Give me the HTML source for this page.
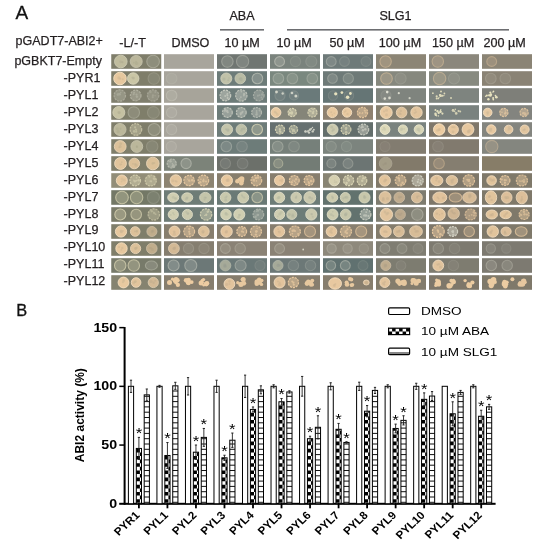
<!DOCTYPE html><html><head><meta charset="utf-8"><style>html,body{margin:0;padding:0;background:#fff;width:544px;height:550px;overflow:hidden}svg{display:block}</style></head><body><svg width="544" height="550" viewBox="0 0 544 550" font-family="Liberation Sans, Arial, sans-serif">
<rect width="544" height="550" fill="#fff"/>
<defs>
<pattern id="chk" patternUnits="userSpaceOnUse" width="5.2" height="6.6" x="0" y="0"><rect width="5.2" height="6.6" fill="#fff"/><rect x="0" y="0" width="2.6" height="3.3" fill="#111"/><rect x="2.6" y="3.3" width="2.6" height="3.3" fill="#111"/></pattern>
<pattern id="hst" patternUnits="userSpaceOnUse" width="6" height="5.1"><rect width="6" height="5.1" fill="#fff"/><rect y="4" width="6" height="1.1" fill="#222"/></pattern>
<filter id="bl" x="0" y="0" width="1" height="1"><feGaussianBlur stdDeviation="0.6"/></filter>
</defs>
<g filter="url(#bl)">
<rect x="111.25" y="54.20" width="50" height="14.6" fill="#7f7e6b"/>
<ellipse cx="153.1" cy="61.5" rx="6.30" ry="6.30" fill="#8e8e7b" stroke="#a6a594" stroke-width="1.1"/>
<ellipse cx="120.8" cy="61.5" rx="6.30" ry="6.30" fill="#c0bc9e" stroke="#cbc8b1" stroke-width="0.9"/>
<circle cx="120.6" cy="61.9" r="1.3" fill="#b2ae93" opacity="0.6"/>
<circle cx="122.4" cy="62.3" r="1.1" fill="#b2ae93" opacity="0.6"/>
<circle cx="122.4" cy="62.1" r="0.8" fill="#b2ae93" opacity="0.6"/>
<ellipse cx="136.2" cy="61.5" rx="6.00" ry="6.00" fill="#bbb79b" stroke="#c5c2ab" stroke-width="0.9"/>
<circle cx="136.0" cy="61.6" r="0.9" fill="#aeab90" opacity="0.6"/>
<circle cx="133.9" cy="62.7" r="0.9" fill="#aeab90" opacity="0.6"/>
<circle cx="136.6" cy="63.4" r="1.6" fill="#aeab90" opacity="0.6"/>
<rect x="111.25" y="71.20" width="50" height="14.6" fill="#7f7e6b"/>
<ellipse cx="153.8" cy="78.5" rx="5.70" ry="5.70" fill="#878774" stroke="#949381" stroke-width="1.1"/>
<ellipse cx="120.0" cy="78.5" rx="6.30" ry="6.30" fill="#e6c89f" stroke="#f4dfc0" stroke-width="0.9"/>
<circle cx="118.9" cy="77.9" r="1.6" fill="#cfb894" opacity="0.6"/>
<circle cx="122.8" cy="79.3" r="1.0" fill="#cfb894" opacity="0.6"/>
<circle cx="120.3" cy="78.8" r="1.0" fill="#cfb894" opacity="0.6"/>
<ellipse cx="133.2" cy="78.5" rx="5.70" ry="5.70" fill="#cac6a6" stroke="#d7d4bb" stroke-width="0.9"/>
<circle cx="133.5" cy="78.0" r="1.3" fill="#b9b699" opacity="0.6"/>
<circle cx="132.5" cy="77.6" r="1.2" fill="#b9b699" opacity="0.6"/>
<circle cx="133.4" cy="78.6" r="1.0" fill="#b9b699" opacity="0.6"/>
<rect x="111.25" y="88.20" width="50" height="14.6" fill="#807f6e"/>
<ellipse cx="119.8" cy="95.5" rx="5.70" ry="5.70" fill="#969685" stroke="#abaa9a" stroke-width="1.2" stroke-dasharray="2.2 0.9"/>
<circle cx="119.0" cy="93.8" r="0.9" fill="#a6a696"/>
<circle cx="118.1" cy="94.5" r="0.9" fill="#a6a696"/>
<circle cx="120.7" cy="92.5" r="0.8" fill="#a6a696"/>
<circle cx="117.8" cy="94.5" r="1.2" fill="#a6a696"/>
<circle cx="119.7" cy="94.2" r="1.3" fill="#a6a696"/>
<ellipse cx="135.7" cy="95.5" rx="5.30" ry="5.30" fill="#999888" stroke="#b0af9f" stroke-width="1.2" stroke-dasharray="2.2 0.9"/>
<circle cx="136.9" cy="96.6" r="1.2" fill="#aaaa9a"/>
<circle cx="136.8" cy="97.1" r="0.7" fill="#aaaa9a"/>
<circle cx="134.1" cy="92.8" r="1.0" fill="#aaaa9a"/>
<circle cx="136.5" cy="94.6" r="1.1" fill="#aaaa9a"/>
<circle cx="133.7" cy="94.2" r="1.0" fill="#aaaa9a"/>
<ellipse cx="153.1" cy="95.5" rx="5.70" ry="5.70" fill="#949383" stroke="#a6a596" stroke-width="1.2" stroke-dasharray="2.2 0.9"/>
<circle cx="155.3" cy="92.0" r="1.0" fill="#a2a191"/>
<circle cx="152.9" cy="95.3" r="1.1" fill="#a2a191"/>
<circle cx="150.4" cy="92.0" r="1.2" fill="#a2a191"/>
<circle cx="152.7" cy="97.2" r="1.1" fill="#a2a191"/>
<circle cx="155.1" cy="95.8" r="0.8" fill="#a2a191"/>
<rect x="111.25" y="105.20" width="50" height="14.6" fill="#7f7e6b"/>
<ellipse cx="153.4" cy="112.5" rx="5.90" ry="5.90" fill="#878774" stroke="#949381" stroke-width="1.1"/>
<ellipse cx="133.8" cy="112.5" rx="5.70" ry="5.70" fill="#8d8c7a" stroke="#a1a18f" stroke-width="1.1"/>
<ellipse cx="118.8" cy="112.5" rx="6.00" ry="6.00" fill="#c5c1a2" stroke="#d1ceb6" stroke-width="0.9"/>
<circle cx="119.0" cy="112.6" r="1.4" fill="#b5b296" opacity="0.6"/>
<circle cx="119.4" cy="113.1" r="1.1" fill="#b5b296" opacity="0.6"/>
<circle cx="119.0" cy="112.3" r="1.2" fill="#b5b296" opacity="0.6"/>
<rect x="111.25" y="122.20" width="50" height="14.6" fill="#7f7e6b"/>
<ellipse cx="154.2" cy="129.5" rx="6.00" ry="6.00" fill="#8e8e7b" stroke="#a6a594" stroke-width="1.1"/>
<ellipse cx="120.0" cy="129.5" rx="6.00" ry="6.00" fill="#bbb79b" stroke="#c5c2ab" stroke-width="0.9"/>
<circle cx="117.3" cy="128.7" r="1.5" fill="#aeab90" opacity="0.6"/>
<circle cx="120.5" cy="128.8" r="1.1" fill="#aeab90" opacity="0.6"/>
<circle cx="118.2" cy="131.7" r="1.6" fill="#aeab90" opacity="0.6"/>
<ellipse cx="135.9" cy="129.5" rx="5.80" ry="5.80" fill="#a3a088" stroke="#c4bfa1" stroke-width="1.2" stroke-dasharray="2.2 0.9"/>
<circle cx="136.4" cy="130.1" r="0.8" fill="#bcb99c"/>
<circle cx="136.2" cy="131.7" r="1.1" fill="#bcb99c"/>
<circle cx="135.9" cy="129.5" r="1.0" fill="#bcb99c"/>
<circle cx="134.2" cy="131.4" r="1.3" fill="#bcb99c"/>
<circle cx="135.1" cy="127.3" r="1.1" fill="#bcb99c"/>
<rect x="111.25" y="139.20" width="50" height="14.6" fill="#7f7e6b"/>
<ellipse cx="152.2" cy="146.5" rx="5.70" ry="5.70" fill="#878774" stroke="#949381" stroke-width="1.1"/>
<ellipse cx="120.2" cy="146.5" rx="5.90" ry="5.90" fill="#dcc19a" stroke="#e8d4b7" stroke-width="0.9"/>
<circle cx="120.1" cy="146.4" r="1.5" fill="#c7b28f" opacity="0.6"/>
<circle cx="120.7" cy="143.8" r="1.4" fill="#c7b28f" opacity="0.6"/>
<circle cx="119.2" cy="147.3" r="0.9" fill="#c7b28f" opacity="0.6"/>
<ellipse cx="136.8" cy="146.5" rx="5.90" ry="5.90" fill="#bbb79b" stroke="#c5c2ab" stroke-width="0.9"/>
<circle cx="136.7" cy="146.4" r="0.9" fill="#aeab90" opacity="0.6"/>
<circle cx="137.0" cy="147.0" r="1.1" fill="#aeab90" opacity="0.6"/>
<circle cx="136.9" cy="146.5" r="0.9" fill="#aeab90" opacity="0.6"/>
<rect x="111.25" y="156.20" width="50" height="14.6" fill="#807e6a"/>
<ellipse cx="120.5" cy="163.5" rx="5.90" ry="5.90" fill="#e1c49c" stroke="#eedabc" stroke-width="0.9"/>
<circle cx="121.4" cy="164.2" r="0.8" fill="#ccb591" opacity="0.6"/>
<circle cx="121.8" cy="162.1" r="0.9" fill="#ccb591" opacity="0.6"/>
<circle cx="120.4" cy="164.6" r="1.1" fill="#ccb591" opacity="0.6"/>
<ellipse cx="134.3" cy="163.5" rx="5.30" ry="5.30" fill="#dcc199" stroke="#e8d4b7" stroke-width="0.9"/>
<circle cx="136.1" cy="165.2" r="1.6" fill="#c7b28f" opacity="0.6"/>
<circle cx="133.0" cy="163.8" r="0.9" fill="#c7b28f" opacity="0.6"/>
<circle cx="135.1" cy="164.1" r="1.0" fill="#c7b28f" opacity="0.6"/>
<ellipse cx="152.8" cy="163.5" rx="6.30" ry="6.30" fill="#dcc199" stroke="#e8d4b7" stroke-width="0.9"/>
<circle cx="153.0" cy="163.0" r="0.8" fill="#c7b28f" opacity="0.6"/>
<circle cx="154.4" cy="163.0" r="0.9" fill="#c7b28f" opacity="0.6"/>
<circle cx="152.7" cy="163.5" r="1.2" fill="#c7b28f" opacity="0.6"/>
<rect x="111.25" y="173.20" width="50" height="14.6" fill="#928d78"/>
<ellipse cx="121.8" cy="180.5" rx="5.50" ry="5.50" fill="#e5c79f" stroke="#f0dbbd" stroke-width="0.9"/>
<circle cx="124.2" cy="180.2" r="1.4" fill="#d2ba96" opacity="0.6"/>
<circle cx="121.7" cy="181.6" r="0.9" fill="#d2ba96" opacity="0.6"/>
<circle cx="122.0" cy="179.0" r="1.4" fill="#d2ba96" opacity="0.6"/>
<ellipse cx="135.2" cy="180.5" rx="5.30" ry="5.30" fill="#b2ad92" stroke="#cfcaaa" stroke-width="1.2" stroke-dasharray="2.2 0.9"/>
<circle cx="134.8" cy="181.3" r="1.2" fill="#c9c3a5"/>
<circle cx="138.6" cy="180.2" r="1.2" fill="#c9c3a5"/>
<circle cx="136.5" cy="177.8" r="0.8" fill="#c9c3a5"/>
<circle cx="133.8" cy="180.3" r="0.7" fill="#c9c3a5"/>
<circle cx="136.4" cy="180.7" r="0.9" fill="#c9c3a5"/>
<ellipse cx="150.8" cy="180.5" rx="5.50" ry="5.50" fill="#b0ab90" stroke="#cbc5a6" stroke-width="1.2" stroke-dasharray="2.2 0.9"/>
<circle cx="149.4" cy="176.7" r="1.0" fill="#c5bfa1"/>
<circle cx="154.7" cy="178.9" r="1.3" fill="#c5bfa1"/>
<circle cx="150.2" cy="181.2" r="0.8" fill="#c5bfa1"/>
<circle cx="151.1" cy="181.3" r="1.1" fill="#c5bfa1"/>
<circle cx="153.7" cy="178.4" r="1.0" fill="#c5bfa1"/>
<rect x="111.25" y="190.20" width="50" height="14.6" fill="#737866"/>
<ellipse cx="153.4" cy="197.5" rx="6.00" ry="6.00" fill="#7c816f" stroke="#8b8f7e" stroke-width="1.1"/>
<ellipse cx="122.0" cy="197.5" rx="6.30" ry="6.30" fill="#92957e" stroke="#c1bfa1" stroke-width="1.1"/>
<ellipse cx="136.6" cy="197.5" rx="6.20" ry="6.20" fill="#90937c" stroke="#bcbb9d" stroke-width="1.1"/>
<rect x="111.25" y="207.20" width="50" height="14.6" fill="#7a7b69"/>
<ellipse cx="120.3" cy="214.5" rx="5.50" ry="5.50" fill="#9a9981" stroke="#c9c5a6" stroke-width="1.1"/>
<ellipse cx="136.2" cy="214.5" rx="5.30" ry="5.30" fill="#96957e" stroke="#bfbc9f" stroke-width="1.1"/>
<ellipse cx="153.8" cy="214.5" rx="5.70" ry="5.70" fill="#9d9c84" stroke="#bcb99c" stroke-width="1.2" stroke-dasharray="2.2 0.9"/>
<circle cx="151.8" cy="211.6" r="0.8" fill="#b5b397"/>
<circle cx="151.7" cy="211.1" r="1.2" fill="#b5b397"/>
<circle cx="153.8" cy="212.4" r="0.8" fill="#b5b397"/>
<circle cx="154.2" cy="213.1" r="1.2" fill="#b5b397"/>
<circle cx="155.6" cy="214.2" r="0.9" fill="#b5b397"/>
<rect x="111.25" y="224.20" width="50" height="14.6" fill="#7f7e6b"/>
<ellipse cx="121.0" cy="231.5" rx="5.60" ry="5.60" fill="#e6c89f" stroke="#f4dfc0" stroke-width="0.9"/>
<circle cx="123.1" cy="230.8" r="0.9" fill="#cfb894" opacity="0.6"/>
<circle cx="121.4" cy="231.8" r="1.5" fill="#cfb894" opacity="0.6"/>
<circle cx="121.2" cy="231.1" r="1.5" fill="#cfb894" opacity="0.6"/>
<ellipse cx="135.2" cy="231.5" rx="4.80" ry="4.80" fill="#dcc19a" stroke="#e8d4b7" stroke-width="0.9"/>
<circle cx="136.8" cy="231.3" r="1.1" fill="#c7b28f" opacity="0.6"/>
<circle cx="134.8" cy="231.4" r="0.8" fill="#c7b28f" opacity="0.6"/>
<circle cx="136.8" cy="231.2" r="1.2" fill="#c7b28f" opacity="0.6"/>
<ellipse cx="151.9" cy="231.5" rx="5.00" ry="5.00" fill="#c0ad8c" stroke="#c9bba1" stroke-width="0.9"/>
<circle cx="153.0" cy="231.0" r="1.5" fill="#b2a385" opacity="0.6"/>
<circle cx="152.2" cy="231.0" r="1.0" fill="#b2a385" opacity="0.6"/>
<circle cx="151.8" cy="232.1" r="1.3" fill="#b2a385" opacity="0.6"/>
<rect x="111.25" y="241.20" width="50" height="14.6" fill="#7f7e6b"/>
<ellipse cx="121.5" cy="248.5" rx="5.70" ry="5.70" fill="#e6c89f" stroke="#f4dfc0" stroke-width="0.9"/>
<circle cx="121.4" cy="249.8" r="0.9" fill="#cfb894" opacity="0.6"/>
<circle cx="122.3" cy="247.9" r="1.2" fill="#cfb894" opacity="0.6"/>
<circle cx="119.1" cy="247.1" r="1.1" fill="#cfb894" opacity="0.6"/>
<ellipse cx="135.6" cy="248.5" rx="5.10" ry="5.10" fill="#dcc19a" stroke="#e8d4b7" stroke-width="0.9"/>
<circle cx="136.7" cy="247.8" r="1.2" fill="#c7b28f" opacity="0.6"/>
<circle cx="135.5" cy="248.5" r="1.2" fill="#c7b28f" opacity="0.6"/>
<circle cx="135.6" cy="248.5" r="1.4" fill="#c7b28f" opacity="0.6"/>
<ellipse cx="151.8" cy="248.5" rx="5.30" ry="5.30" fill="#c0ad8c" stroke="#c9bba1" stroke-width="0.9"/>
<circle cx="152.5" cy="249.7" r="1.4" fill="#b2a385" opacity="0.6"/>
<circle cx="151.0" cy="248.2" r="1.2" fill="#b2a385" opacity="0.6"/>
<circle cx="149.8" cy="247.8" r="0.9" fill="#b2a385" opacity="0.6"/>
<rect x="111.25" y="258.20" width="50" height="14.6" fill="#777a6a"/>
<ellipse cx="120.2" cy="265.5" rx="5.70" ry="5.70" fill="#959681" stroke="#c3c0a3" stroke-width="1.1"/>
<ellipse cx="133.8" cy="265.5" rx="5.70" ry="5.70" fill="#93947f" stroke="#bebb9f" stroke-width="1.1"/>
<ellipse cx="151.4" cy="265.5" rx="6.00" ry="4.50" fill="#888a7b" stroke="#a1a393" stroke-width="1.1"/>
<rect x="111.25" y="275.20" width="50" height="14.6" fill="#858370"/>
<ellipse cx="123.5" cy="282.5" rx="5.40" ry="5.40" fill="#e7c9a0" stroke="#f5dfc0" stroke-width="0.9"/>
<circle cx="122.8" cy="282.2" r="1.0" fill="#d1ba95" opacity="0.6"/>
<circle cx="123.6" cy="281.1" r="1.2" fill="#d1ba95" opacity="0.6"/>
<circle cx="123.6" cy="279.9" r="1.2" fill="#d1ba95" opacity="0.6"/>
<ellipse cx="136.1" cy="282.5" rx="4.80" ry="4.80" fill="#e2c59d" stroke="#efdabc" stroke-width="0.9"/>
<circle cx="135.1" cy="281.7" r="1.2" fill="#cdb793" opacity="0.6"/>
<circle cx="135.6" cy="281.4" r="1.2" fill="#cdb793" opacity="0.6"/>
<circle cx="133.7" cy="282.8" r="1.4" fill="#cdb793" opacity="0.6"/>
<ellipse cx="153.3" cy="282.5" rx="5.10" ry="5.10" fill="#d3ba96" stroke="#ddccb0" stroke-width="0.9"/>
<circle cx="155.2" cy="280.7" r="1.0" fill="#c1ae8d" opacity="0.6"/>
<circle cx="151.0" cy="281.6" r="1.5" fill="#c1ae8d" opacity="0.6"/>
<circle cx="153.6" cy="282.7" r="1.2" fill="#c1ae8d" opacity="0.6"/>
<rect x="164" y="54.20" width="50" height="14.6" fill="#a8a59c"/>
<rect x="164" y="71.20" width="50" height="14.6" fill="#a8a59c"/>
<ellipse cx="171.6" cy="78.5" rx="5.30" ry="5.30" fill="#aba99f" stroke="#b0aea4" stroke-width="1.1"/>
<rect x="164" y="88.20" width="50" height="14.6" fill="#a7a49a"/>
<ellipse cx="171.6" cy="95.5" rx="5.30" ry="5.30" fill="#aeaca1" stroke="#b9b7ac" stroke-width="1.1"/>
<rect x="164" y="105.20" width="50" height="14.6" fill="#a8a59c"/>
<ellipse cx="171.6" cy="112.5" rx="5.10" ry="5.10" fill="#aeaba2" stroke="#b7b5ab" stroke-width="1.1"/>
<rect x="164" y="122.20" width="50" height="14.6" fill="#a8a59c"/>
<ellipse cx="171.6" cy="129.5" rx="5.10" ry="5.10" fill="#aeaba2" stroke="#b6b4aa" stroke-width="1.1"/>
<rect x="164" y="139.20" width="50" height="14.6" fill="#a8a59c"/>
<ellipse cx="171.3" cy="146.5" rx="5.10" ry="5.10" fill="#adaaa1" stroke="#b5b2a8" stroke-width="1.1"/>
<rect x="164" y="156.20" width="50" height="14.6" fill="#7b8379"/>
<ellipse cx="186.1" cy="163.5" rx="5.10" ry="5.10" fill="#8d9389" stroke="#a8aca1" stroke-width="1.1"/>
<ellipse cx="171.7" cy="163.5" rx="4.50" ry="4.50" fill="#9aa095" stroke="#b7baae" stroke-width="1.2" stroke-dasharray="2.2 0.9"/>
<circle cx="172.4" cy="163.8" r="0.7" fill="#b1b4a8"/>
<circle cx="170.5" cy="161.3" r="1.2" fill="#b1b4a8"/>
<circle cx="173.0" cy="165.4" r="1.1" fill="#b1b4a8"/>
<circle cx="173.5" cy="165.7" r="1.3" fill="#b1b4a8"/>
<circle cx="172.3" cy="166.5" r="0.9" fill="#b1b4a8"/>
<rect x="164" y="173.20" width="50" height="14.6" fill="#8d8472"/>
<ellipse cx="175.8" cy="180.5" rx="5.70" ry="5.70" fill="#e4c69e" stroke="#f0dabc" stroke-width="0.9"/>
<circle cx="172.8" cy="180.7" r="1.5" fill="#d0b794" opacity="0.6"/>
<circle cx="176.5" cy="181.6" r="1.2" fill="#d0b794" opacity="0.6"/>
<circle cx="175.5" cy="181.0" r="1.1" fill="#d0b794" opacity="0.6"/>
<ellipse cx="189.1" cy="180.5" rx="5.20" ry="5.20" fill="#baa689" stroke="#e3c59e" stroke-width="1.2" stroke-dasharray="2.2 0.9"/>
<circle cx="189.1" cy="180.4" r="1.0" fill="#dabf99"/>
<circle cx="189.0" cy="180.5" r="0.9" fill="#dabf99"/>
<circle cx="187.7" cy="179.1" r="0.7" fill="#dabf99"/>
<circle cx="192.2" cy="180.2" r="1.3" fill="#dabf99"/>
<circle cx="189.9" cy="181.1" r="0.7" fill="#dabf99"/>
<ellipse cx="203.4" cy="180.5" rx="5.30" ry="5.30" fill="#baa689" stroke="#e3c59e" stroke-width="1.2" stroke-dasharray="2.2 0.9"/>
<circle cx="203.6" cy="179.4" r="0.8" fill="#dabf99"/>
<circle cx="200.2" cy="182.2" r="1.2" fill="#dabf99"/>
<circle cx="203.4" cy="181.1" r="1.3" fill="#dabf99"/>
<circle cx="200.9" cy="179.3" r="0.8" fill="#dabf99"/>
<circle cx="206.0" cy="181.5" r="1.0" fill="#dabf99"/>
<rect x="164" y="190.20" width="50" height="14.6" fill="#6e7b76"/>
<ellipse cx="173.2" cy="197.5" rx="5.50" ry="4.70" fill="#d0ceb1" stroke="#e0dec8" stroke-width="0.9"/>
<circle cx="175.6" cy="198.5" r="1.3" fill="#babca4" opacity="0.6"/>
<circle cx="173.3" cy="197.3" r="1.5" fill="#babca4" opacity="0.6"/>
<circle cx="175.5" cy="198.4" r="1.2" fill="#babca4" opacity="0.6"/>
<ellipse cx="187.2" cy="197.5" rx="5.50" ry="4.70" fill="#cac9ad" stroke="#d9d9c3" stroke-width="0.9"/>
<circle cx="186.3" cy="198.7" r="1.5" fill="#b6b8a1" opacity="0.6"/>
<circle cx="187.2" cy="197.8" r="1.2" fill="#b6b8a1" opacity="0.6"/>
<circle cx="187.2" cy="197.8" r="0.9" fill="#b6b8a1" opacity="0.6"/>
<ellipse cx="205.3" cy="197.5" rx="5.70" ry="5.10" fill="#c4c5aa" stroke="#d2d3be" stroke-width="0.9"/>
<circle cx="205.9" cy="197.7" r="1.0" fill="#b1b49e" opacity="0.6"/>
<circle cx="204.5" cy="199.4" r="1.0" fill="#b1b49e" opacity="0.6"/>
<circle cx="204.8" cy="197.5" r="1.1" fill="#b1b49e" opacity="0.6"/>
<rect x="164" y="207.20" width="50" height="14.6" fill="#6e7b76"/>
<ellipse cx="173.3" cy="214.5" rx="5.10" ry="5.10" fill="#d0ceb1" stroke="#e0dec8" stroke-width="0.9"/>
<circle cx="174.0" cy="214.6" r="0.8" fill="#babca4" opacity="0.6"/>
<circle cx="173.1" cy="213.0" r="1.0" fill="#babca4" opacity="0.6"/>
<circle cx="170.8" cy="214.9" r="0.9" fill="#babca4" opacity="0.6"/>
<ellipse cx="187.4" cy="214.5" rx="5.10" ry="5.10" fill="#cac9ad" stroke="#d9d9c3" stroke-width="0.9"/>
<circle cx="187.9" cy="213.4" r="1.2" fill="#b6b8a1" opacity="0.6"/>
<circle cx="187.9" cy="213.6" r="1.2" fill="#b6b8a1" opacity="0.6"/>
<circle cx="186.4" cy="212.1" r="1.1" fill="#b6b8a1" opacity="0.6"/>
<ellipse cx="206.1" cy="214.5" rx="5.70" ry="5.70" fill="#a1a795" stroke="#cfceb1" stroke-width="1.2" stroke-dasharray="2.2 0.9"/>
<circle cx="207.6" cy="211.8" r="1.1" fill="#c5c5aa"/>
<circle cx="204.8" cy="215.4" r="0.7" fill="#c5c5aa"/>
<circle cx="206.3" cy="214.7" r="1.1" fill="#c5c5aa"/>
<circle cx="206.1" cy="215.2" r="0.8" fill="#c5c5aa"/>
<circle cx="208.2" cy="211.3" r="1.1" fill="#c5c5aa"/>
<rect x="164" y="224.20" width="50" height="14.6" fill="#877e6e"/>
<ellipse cx="174.5" cy="231.5" rx="5.40" ry="5.40" fill="#e3c49d" stroke="#efdabc" stroke-width="0.9"/>
<circle cx="174.4" cy="232.2" r="1.0" fill="#ceb593" opacity="0.6"/>
<circle cx="174.1" cy="231.6" r="1.2" fill="#ceb593" opacity="0.6"/>
<circle cx="174.3" cy="234.2" r="1.6" fill="#ceb593" opacity="0.6"/>
<ellipse cx="203.8" cy="231.5" rx="5.40" ry="5.40" fill="#ddc19a" stroke="#e9d4b8" stroke-width="0.9"/>
<circle cx="203.1" cy="231.3" r="1.6" fill="#cab291" opacity="0.6"/>
<circle cx="203.4" cy="232.4" r="0.8" fill="#cab291" opacity="0.6"/>
<circle cx="202.8" cy="232.4" r="1.2" fill="#cab291" opacity="0.6"/>
<ellipse cx="189.2" cy="231.5" rx="5.40" ry="5.40" fill="#b7a387" stroke="#e2c49d" stroke-width="1.2" stroke-dasharray="2.2 0.9"/>
<circle cx="189.8" cy="233.5" r="0.7" fill="#d9bd98"/>
<circle cx="189.2" cy="231.9" r="0.9" fill="#d9bd98"/>
<circle cx="189.3" cy="231.5" r="0.9" fill="#d9bd98"/>
<circle cx="189.5" cy="233.9" r="1.0" fill="#d9bd98"/>
<circle cx="189.2" cy="228.8" r="1.1" fill="#d9bd98"/>
<rect x="164" y="241.20" width="50" height="14.6" fill="#857e70"/>
<ellipse cx="188.5" cy="248.5" rx="5.10" ry="5.10" fill="#8d8779" stroke="#999385" stroke-width="1.1"/>
<ellipse cx="204.0" cy="248.5" rx="5.10" ry="5.10" fill="#8c8577" stroke="#969082" stroke-width="1.1"/>
<ellipse cx="173.9" cy="248.5" rx="5.40" ry="5.40" fill="#d3b996" stroke="#ddcab0" stroke-width="0.9"/>
<circle cx="174.7" cy="247.7" r="1.1" fill="#c1ac8d" opacity="0.6"/>
<circle cx="174.3" cy="248.5" r="1.4" fill="#c1ac8d" opacity="0.6"/>
<circle cx="173.8" cy="248.4" r="1.5" fill="#c1ac8d" opacity="0.6"/>
<rect x="164" y="258.20" width="50" height="14.6" fill="#6c7877"/>
<ellipse cx="173.6" cy="265.5" rx="5.50" ry="5.50" fill="#828c89" stroke="#a4aaa3" stroke-width="1.1"/>
<ellipse cx="190.8" cy="265.5" rx="6.00" ry="6.00" fill="#808a87" stroke="#9fa69f" stroke-width="1.1"/>
<rect x="164" y="275.20" width="50" height="14.6" fill="#877e6e"/>
<circle cx="177.3" cy="280.3" r="2.4" fill="#edcca2"/>
<circle cx="174.9" cy="281.0" r="2.1" fill="#edcca2"/>
<circle cx="169.5" cy="282.4" r="2.5" fill="#edcca2"/>
<circle cx="176.0" cy="279.6" r="2.6" fill="#edcca2"/>
<circle cx="172.5" cy="279.2" r="1.6" fill="#edcca2"/>
<circle cx="176.0" cy="282.8" r="1.8" fill="#edcca2"/>
<circle cx="177.9" cy="284.9" r="2.1" fill="#edcca2"/>
<circle cx="186.1" cy="280.3" r="2.3" fill="#edcca2"/>
<circle cx="188.3" cy="282.5" r="2.5" fill="#edcca2"/>
<circle cx="188.6" cy="279.8" r="2.1" fill="#edcca2"/>
<circle cx="188.0" cy="281.7" r="2.4" fill="#edcca2"/>
<circle cx="188.6" cy="283.5" r="1.7" fill="#edcca2"/>
<circle cx="188.3" cy="280.8" r="2.4" fill="#edcca2"/>
<circle cx="191.7" cy="282.1" r="1.9" fill="#edcca2"/>
<circle cx="201.1" cy="282.9" r="2.5" fill="#edcca2"/>
<circle cx="202.1" cy="280.4" r="1.4" fill="#edcca2"/>
<circle cx="206.2" cy="284.0" r="2.4" fill="#edcca2"/>
<circle cx="203.7" cy="285.2" r="1.3" fill="#edcca2"/>
<circle cx="207.0" cy="283.2" r="2.3" fill="#edcca2"/>
<circle cx="203.5" cy="279.6" r="1.7" fill="#edcca2"/>
<circle cx="201.7" cy="282.2" r="2.0" fill="#edcca2"/>
<rect x="217" y="54.20" width="50" height="14.6" fill="#6f7672"/>
<ellipse cx="227.4" cy="61.5" rx="5.70" ry="5.70" fill="#818781" stroke="#9ca098" stroke-width="1.1"/>
<ellipse cx="242.6" cy="61.5" rx="6.10" ry="6.10" fill="#7f8580" stroke="#979b94" stroke-width="1.1"/>
<rect x="217" y="71.20" width="50" height="14.6" fill="#6d7b79"/>
<ellipse cx="257.4" cy="78.5" rx="5.30" ry="5.30" fill="#85908c" stroke="#aab1a8" stroke-width="1.1"/>
<ellipse cx="226.3" cy="78.5" rx="5.50" ry="5.50" fill="#c1c2a9" stroke="#cecfbc" stroke-width="0.9"/>
<circle cx="228.2" cy="80.3" r="1.0" fill="#aeb29e" opacity="0.6"/>
<circle cx="229.0" cy="78.1" r="0.8" fill="#aeb29e" opacity="0.6"/>
<circle cx="224.0" cy="79.1" r="1.6" fill="#aeb29e" opacity="0.6"/>
<ellipse cx="240.3" cy="78.5" rx="5.30" ry="5.30" fill="#b8bba4" stroke="#c5c7b6" stroke-width="0.9"/>
<circle cx="239.6" cy="78.7" r="1.0" fill="#a8ad9b" opacity="0.6"/>
<circle cx="240.9" cy="78.3" r="1.3" fill="#a8ad9b" opacity="0.6"/>
<circle cx="241.2" cy="79.6" r="1.6" fill="#a8ad9b" opacity="0.6"/>
<rect x="217" y="88.20" width="50" height="14.6" fill="#6d7b79"/>
<ellipse cx="225.4" cy="95.5" rx="5.30" ry="5.30" fill="#9da59e" stroke="#c7cbc0" stroke-width="1.2" stroke-dasharray="2.2 0.9"/>
<circle cx="227.6" cy="97.9" r="1.0" fill="#bec2b8"/>
<circle cx="227.5" cy="93.7" r="0.8" fill="#bec2b8"/>
<circle cx="227.0" cy="94.3" r="0.7" fill="#bec2b8"/>
<circle cx="227.4" cy="95.5" r="1.0" fill="#bec2b8"/>
<circle cx="225.2" cy="96.0" r="0.9" fill="#bec2b8"/>
<ellipse cx="241.3" cy="95.5" rx="5.70" ry="5.70" fill="#97a09a" stroke="#bcc1b7" stroke-width="1.2" stroke-dasharray="2.2 0.9"/>
<circle cx="239.8" cy="98.9" r="0.7" fill="#b4b9b0"/>
<circle cx="241.3" cy="91.8" r="0.8" fill="#b4b9b0"/>
<circle cx="244.1" cy="94.1" r="1.2" fill="#b4b9b0"/>
<circle cx="240.9" cy="97.1" r="0.9" fill="#b4b9b0"/>
<circle cx="243.9" cy="95.5" r="0.9" fill="#b4b9b0"/>
<ellipse cx="258.8" cy="95.5" rx="5.30" ry="5.30" fill="#8b9590" stroke="#a6ada5" stroke-width="1.2" stroke-dasharray="2.2 0.9"/>
<circle cx="257.8" cy="96.0" r="0.7" fill="#a0a8a1"/>
<circle cx="261.5" cy="97.5" r="0.9" fill="#a0a8a1"/>
<circle cx="259.7" cy="95.1" r="0.9" fill="#a0a8a1"/>
<circle cx="258.0" cy="95.4" r="0.9" fill="#a0a8a1"/>
<circle cx="262.2" cy="94.5" r="1.2" fill="#a0a8a1"/>
<rect x="217" y="105.20" width="50" height="14.6" fill="#6d7b79"/>
<ellipse cx="227.4" cy="112.5" rx="4.90" ry="4.90" fill="#97a09a" stroke="#bcc1b7" stroke-width="1.2" stroke-dasharray="2.2 0.9"/>
<circle cx="225.2" cy="110.1" r="1.3" fill="#b4b9b0"/>
<circle cx="224.9" cy="111.7" r="0.7" fill="#b4b9b0"/>
<circle cx="227.2" cy="110.9" r="1.2" fill="#b4b9b0"/>
<circle cx="226.8" cy="111.7" r="0.7" fill="#b4b9b0"/>
<circle cx="227.8" cy="112.3" r="1.0" fill="#b4b9b0"/>
<ellipse cx="241.3" cy="112.5" rx="4.90" ry="4.90" fill="#97a09a" stroke="#bcc1b7" stroke-width="1.2" stroke-dasharray="2.2 0.9"/>
<circle cx="240.7" cy="113.4" r="1.1" fill="#b4b9b0"/>
<circle cx="242.2" cy="112.4" r="1.1" fill="#b4b9b0"/>
<circle cx="240.7" cy="114.4" r="0.9" fill="#b4b9b0"/>
<circle cx="241.6" cy="113.0" r="0.8" fill="#b4b9b0"/>
<circle cx="242.8" cy="111.5" r="0.8" fill="#b4b9b0"/>
<ellipse cx="256.6" cy="112.5" rx="4.90" ry="4.90" fill="#919a95" stroke="#b1b7ae" stroke-width="1.2" stroke-dasharray="2.2 0.9"/>
<circle cx="259.6" cy="110.5" r="1.0" fill="#aab1a8"/>
<circle cx="257.0" cy="113.0" r="0.8" fill="#aab1a8"/>
<circle cx="256.4" cy="112.8" r="0.8" fill="#aab1a8"/>
<circle cx="256.5" cy="114.5" r="1.2" fill="#aab1a8"/>
<circle cx="256.6" cy="111.0" r="0.9" fill="#aab1a8"/>
<rect x="217" y="122.20" width="50" height="14.6" fill="#6d7b79"/>
<ellipse cx="257.2" cy="129.5" rx="5.30" ry="5.30" fill="#90998d" stroke="#c5c5ab" stroke-width="1.1"/>
<ellipse cx="227.1" cy="129.5" rx="5.50" ry="5.50" fill="#c4c5ab" stroke="#d2d3bf" stroke-width="0.9"/>
<circle cx="226.0" cy="129.3" r="1.1" fill="#b1b4a0" opacity="0.6"/>
<circle cx="227.8" cy="129.8" r="1.6" fill="#b1b4a0" opacity="0.6"/>
<circle cx="228.1" cy="130.5" r="1.3" fill="#b1b4a0" opacity="0.6"/>
<ellipse cx="241.4" cy="129.5" rx="5.30" ry="5.30" fill="#bec0a8" stroke="#cbcdba" stroke-width="0.9"/>
<circle cx="241.8" cy="129.0" r="1.0" fill="#acb09d" opacity="0.6"/>
<circle cx="241.4" cy="130.6" r="1.2" fill="#acb09d" opacity="0.6"/>
<circle cx="243.7" cy="128.8" r="1.5" fill="#acb09d" opacity="0.6"/>
<rect x="217" y="139.20" width="50" height="14.6" fill="#6d7b79"/>
<ellipse cx="242.0" cy="146.5" rx="5.30" ry="5.30" fill="#778481" stroke="#86918d" stroke-width="1.1"/>
<ellipse cx="226.3" cy="146.5" rx="5.30" ry="5.30" fill="#7d8986" stroke="#959f99" stroke-width="1.1"/>
<rect x="217" y="156.20" width="50" height="14.6" fill="#6c706b"/>
<ellipse cx="225.4" cy="163.5" rx="5.10" ry="5.10" fill="#767a74" stroke="#858881" stroke-width="1.1"/>
<ellipse cx="242.6" cy="163.5" rx="5.30" ry="5.30" fill="#747872" stroke="#81847e" stroke-width="1.1"/>
<rect x="217" y="173.20" width="50" height="14.6" fill="#877e6d"/>
<ellipse cx="226.9" cy="180.5" rx="5.60" ry="5.60" fill="#e8c89f" stroke="#f5dfc0" stroke-width="0.9"/>
<circle cx="227.0" cy="180.5" r="1.4" fill="#d2b894" opacity="0.6"/>
<circle cx="228.0" cy="179.6" r="1.3" fill="#d2b894" opacity="0.6"/>
<circle cx="228.1" cy="180.5" r="1.5" fill="#d2b894" opacity="0.6"/>
<ellipse cx="256.4" cy="180.5" rx="5.30" ry="5.30" fill="#b7a386" stroke="#e2c49d" stroke-width="1.2" stroke-dasharray="2.2 0.9"/>
<circle cx="258.0" cy="177.5" r="1.3" fill="#d9bd98"/>
<circle cx="256.4" cy="180.9" r="0.8" fill="#d9bd98"/>
<circle cx="253.7" cy="180.1" r="1.3" fill="#d9bd98"/>
<circle cx="255.9" cy="178.0" r="1.2" fill="#d9bd98"/>
<circle cx="254.3" cy="181.1" r="0.7" fill="#d9bd98"/>
<circle cx="241.7" cy="178.9" r="2.7" fill="#e7c89f"/>
<circle cx="239.9" cy="179.0" r="1.5" fill="#e7c89f"/>
<circle cx="241.3" cy="183.3" r="2.3" fill="#e7c89f"/>
<circle cx="242.1" cy="181.1" r="2.1" fill="#e7c89f"/>
<circle cx="239.1" cy="179.4" r="1.6" fill="#e7c89f"/>
<circle cx="241.0" cy="180.3" r="1.8" fill="#e7c89f"/>
<circle cx="237.4" cy="181.3" r="2.3" fill="#e7c89f"/>
<rect x="217" y="190.20" width="50" height="14.6" fill="#6b7a76"/>
<ellipse cx="257.2" cy="197.5" rx="5.30" ry="5.30" fill="#8a9488" stroke="#b9bba4" stroke-width="1.1"/>
<ellipse cx="225.6" cy="197.5" rx="5.30" ry="5.30" fill="#c9c9ad" stroke="#d9d8c3" stroke-width="0.9"/>
<circle cx="226.6" cy="196.6" r="1.0" fill="#b4b8a1" opacity="0.6"/>
<circle cx="225.7" cy="200.2" r="1.4" fill="#b4b8a1" opacity="0.6"/>
<circle cx="225.6" cy="197.6" r="1.2" fill="#b4b8a1" opacity="0.6"/>
<ellipse cx="243.2" cy="197.5" rx="5.50" ry="5.50" fill="#c9c9ad" stroke="#d9d8c3" stroke-width="0.9"/>
<circle cx="242.6" cy="196.4" r="1.0" fill="#b4b8a1" opacity="0.6"/>
<circle cx="241.9" cy="195.2" r="1.0" fill="#b4b8a1" opacity="0.6"/>
<circle cx="244.2" cy="197.7" r="1.1" fill="#b4b8a1" opacity="0.6"/>
<rect x="217" y="207.20" width="50" height="14.6" fill="#6b7a76"/>
<ellipse cx="226.0" cy="214.5" rx="5.30" ry="5.30" fill="#cfceb1" stroke="#dfdec8" stroke-width="0.9"/>
<circle cx="225.8" cy="214.0" r="1.4" fill="#b9bba4" opacity="0.6"/>
<circle cx="225.9" cy="213.1" r="1.0" fill="#b9bba4" opacity="0.6"/>
<circle cx="226.9" cy="214.3" r="1.5" fill="#b9bba4" opacity="0.6"/>
<ellipse cx="239.3" cy="214.5" rx="5.50" ry="5.50" fill="#cfceb1" stroke="#dfdec8" stroke-width="0.9"/>
<circle cx="239.4" cy="215.1" r="1.4" fill="#b9bba4" opacity="0.6"/>
<circle cx="238.5" cy="217.2" r="1.2" fill="#b9bba4" opacity="0.6"/>
<circle cx="239.5" cy="215.1" r="1.1" fill="#b9bba4" opacity="0.6"/>
<ellipse cx="258.4" cy="214.5" rx="5.30" ry="5.30" fill="#8c9790" stroke="#aab1a8" stroke-width="1.2" stroke-dasharray="2.2 0.9"/>
<circle cx="256.5" cy="211.2" r="0.8" fill="#a4aca3"/>
<circle cx="257.7" cy="215.0" r="1.3" fill="#a4aca3"/>
<circle cx="258.5" cy="214.7" r="0.7" fill="#a4aca3"/>
<circle cx="255.6" cy="216.7" r="1.2" fill="#a4aca3"/>
<circle cx="258.0" cy="210.5" r="1.3" fill="#a4aca3"/>
<rect x="217" y="224.20" width="50" height="14.6" fill="#867d6d"/>
<ellipse cx="226.6" cy="231.5" rx="5.70" ry="5.70" fill="#e2c49d" stroke="#efd9bc" stroke-width="0.9"/>
<circle cx="226.3" cy="232.0" r="1.5" fill="#ceb492" opacity="0.6"/>
<circle cx="226.6" cy="231.4" r="1.3" fill="#ceb492" opacity="0.6"/>
<circle cx="225.8" cy="232.3" r="1.1" fill="#ceb492" opacity="0.6"/>
<ellipse cx="241.7" cy="231.5" rx="4.90" ry="4.90" fill="#b6a286" stroke="#e2c49d" stroke-width="1.2" stroke-dasharray="2.2 0.9"/>
<circle cx="241.7" cy="231.5" r="0.9" fill="#d8bd98"/>
<circle cx="239.7" cy="234.3" r="0.8" fill="#d8bd98"/>
<circle cx="242.4" cy="231.3" r="0.9" fill="#d8bd98"/>
<circle cx="243.0" cy="228.8" r="1.0" fill="#d8bd98"/>
<circle cx="243.3" cy="232.0" r="0.9" fill="#d8bd98"/>
<ellipse cx="256.0" cy="231.5" rx="5.50" ry="5.50" fill="#b6a286" stroke="#e2c49d" stroke-width="1.2" stroke-dasharray="2.2 0.9"/>
<circle cx="256.7" cy="231.1" r="0.9" fill="#d8bd98"/>
<circle cx="256.1" cy="231.4" r="0.9" fill="#d8bd98"/>
<circle cx="257.2" cy="228.5" r="0.7" fill="#d8bd98"/>
<circle cx="256.3" cy="231.6" r="1.3" fill="#d8bd98"/>
<circle cx="255.9" cy="234.6" r="1.2" fill="#d8bd98"/>
<rect x="217" y="241.20" width="50" height="14.6" fill="#8a8274"/>
<ellipse cx="225.4" cy="248.5" rx="4.90" ry="4.90" fill="#958e80" stroke="#a59f91" stroke-width="1.1"/>
<ellipse cx="240.2" cy="248.5" rx="5.20" ry="5.20" fill="#938c7e" stroke="#a19b8d" stroke-width="1.1"/>
<rect x="217" y="258.20" width="50" height="14.6" fill="#6b7877"/>
<ellipse cx="260.0" cy="265.5" rx="5.00" ry="5.00" fill="#727e7c" stroke="#7c8784" stroke-width="1.1"/>
<ellipse cx="240.6" cy="265.5" rx="5.50" ry="5.50" fill="#7e8986" stroke="#99a19b" stroke-width="1.1"/>
<ellipse cx="225.4" cy="265.5" rx="5.40" ry="5.40" fill="#a6aa99" stroke="#afb4a7" stroke-width="0.9"/>
<circle cx="225.0" cy="266.2" r="1.6" fill="#999f92" opacity="0.6"/>
<circle cx="224.8" cy="265.0" r="1.4" fill="#999f92" opacity="0.6"/>
<circle cx="225.1" cy="266.2" r="0.8" fill="#999f92" opacity="0.6"/>
<rect x="217" y="275.20" width="50" height="14.6" fill="#867d6d"/>
<ellipse cx="229.4" cy="284.0" rx="5.40" ry="5.40" fill="#e2c49d" stroke="#efd9bc" stroke-width="0.9"/>
<circle cx="229.5" cy="281.4" r="1.3" fill="#ceb492" opacity="0.6"/>
<circle cx="229.5" cy="284.0" r="1.0" fill="#ceb492" opacity="0.6"/>
<circle cx="226.7" cy="284.4" r="1.6" fill="#ceb492" opacity="0.6"/>
<circle cx="240.3" cy="283.8" r="1.9" fill="#e7c89f"/>
<circle cx="237.7" cy="282.7" r="1.6" fill="#e7c89f"/>
<circle cx="243.2" cy="279.4" r="2.5" fill="#e7c89f"/>
<circle cx="242.5" cy="279.5" r="1.8" fill="#e7c89f"/>
<circle cx="240.9" cy="284.6" r="2.5" fill="#e7c89f"/>
<circle cx="243.8" cy="283.3" r="2.4" fill="#e7c89f"/>
<circle cx="242.0" cy="283.5" r="1.4" fill="#e7c89f"/>
<circle cx="257.3" cy="282.0" r="2.8" fill="#e7c89f"/>
<circle cx="261.8" cy="280.5" r="1.7" fill="#e7c89f"/>
<circle cx="260.1" cy="283.0" r="2.0" fill="#e7c89f"/>
<circle cx="258.6" cy="280.6" r="1.7" fill="#e7c89f"/>
<circle cx="256.8" cy="283.7" r="2.3" fill="#e7c89f"/>
<circle cx="259.2" cy="279.8" r="2.3" fill="#e7c89f"/>
<circle cx="261.5" cy="284.4" r="1.7" fill="#e7c89f"/>
<rect x="270" y="54.20" width="50" height="14.6" fill="#7a837d"/>
<ellipse cx="295.5" cy="61.5" rx="5.10" ry="5.10" fill="#808882" stroke="#899189" stroke-width="1.1"/>
<ellipse cx="311.3" cy="61.5" rx="5.50" ry="5.50" fill="#818a83" stroke="#8d948d" stroke-width="1.1"/>
<ellipse cx="279.6" cy="61.5" rx="4.90" ry="4.90" fill="#8e958e" stroke="#acb0a7" stroke-width="1.1"/>
<rect x="270" y="71.20" width="50" height="14.6" fill="#7a887f"/>
<ellipse cx="278.4" cy="78.5" rx="5.30" ry="5.30" fill="#88958b" stroke="#9ea79d" stroke-width="1.1"/>
<ellipse cx="292.4" cy="78.5" rx="5.30" ry="5.30" fill="#879389" stroke="#9aa399" stroke-width="1.1"/>
<ellipse cx="312.3" cy="78.5" rx="5.30" ry="5.30" fill="#879389" stroke="#9aa399" stroke-width="1.1"/>
<rect x="270" y="88.20" width="50" height="14.6" fill="#6b7a7a"/>
<ellipse cx="280.0" cy="95.5" rx="5.00" ry="5.00" fill="#738180" stroke="#808d8a" stroke-width="1.1"/>
<ellipse cx="294.0" cy="95.5" rx="4.50" ry="4.50" fill="#738180" stroke="#808d8a" stroke-width="1.1"/>
<circle cx="276.5" cy="92.0" r="1.4" fill="#d2d4c8"/>
<circle cx="282.7" cy="93.5" r="1.2" fill="#cccfc4"/>
<circle cx="292.0" cy="93.0" r="1.3" fill="#cccfc4"/>
<circle cx="295.9" cy="96.0" r="1.5" fill="#d2d4c8"/>
<rect x="270" y="105.20" width="50" height="14.6" fill="#858579"/>
<ellipse cx="276.0" cy="112.5" rx="4.90" ry="4.90" fill="#e7c9a1" stroke="#f5dfc1" stroke-width="0.9"/>
<circle cx="275.1" cy="112.1" r="1.4" fill="#d1ba98" opacity="0.6"/>
<circle cx="276.2" cy="113.1" r="1.0" fill="#d1ba98" opacity="0.6"/>
<circle cx="277.3" cy="114.4" r="1.3" fill="#d1ba98" opacity="0.6"/>
<ellipse cx="292.2" cy="112.5" rx="4.10" ry="4.10" fill="#b2af98" stroke="#dad5b5" stroke-width="1.2" stroke-dasharray="2.2 0.9"/>
<circle cx="291.7" cy="113.5" r="1.3" fill="#d1cdae"/>
<circle cx="291.6" cy="112.5" r="1.2" fill="#d1cdae"/>
<circle cx="290.6" cy="110.2" r="0.8" fill="#d1cdae"/>
<circle cx="289.9" cy="112.9" r="1.2" fill="#d1cdae"/>
<circle cx="292.3" cy="112.4" r="0.9" fill="#d1cdae"/>
<ellipse cx="312.5" cy="112.5" rx="4.50" ry="4.50" fill="#afad97" stroke="#d5d0b1" stroke-width="1.2" stroke-dasharray="2.2 0.9"/>
<circle cx="312.9" cy="112.9" r="1.3" fill="#ccc8ab"/>
<circle cx="309.9" cy="111.0" r="0.9" fill="#ccc8ab"/>
<circle cx="313.5" cy="111.4" r="0.9" fill="#ccc8ab"/>
<circle cx="313.0" cy="109.5" r="0.8" fill="#ccc8ab"/>
<circle cx="310.9" cy="111.4" r="0.8" fill="#ccc8ab"/>
<rect x="270" y="122.20" width="50" height="14.6" fill="#667070"/>
<ellipse cx="280.0" cy="129.5" rx="4.50" ry="4.50" fill="#a0a393" stroke="#d4d1b3" stroke-width="1.2" stroke-dasharray="2.2 0.9"/>
<circle cx="279.7" cy="129.8" r="0.8" fill="#c8c7ac"/>
<circle cx="279.9" cy="131.4" r="1.1" fill="#c8c7ac"/>
<circle cx="280.0" cy="129.5" r="0.9" fill="#c8c7ac"/>
<circle cx="279.7" cy="129.0" r="0.9" fill="#c8c7ac"/>
<circle cx="280.7" cy="131.9" r="1.0" fill="#c8c7ac"/>
<ellipse cx="293.5" cy="129.5" rx="4.10" ry="4.10" fill="#9ca091" stroke="#cdcbaf" stroke-width="1.2" stroke-dasharray="2.2 0.9"/>
<circle cx="293.8" cy="129.6" r="0.9" fill="#c2c2a8"/>
<circle cx="291.8" cy="128.9" r="0.8" fill="#c2c2a8"/>
<circle cx="294.5" cy="131.2" r="0.9" fill="#c2c2a8"/>
<circle cx="293.3" cy="130.3" r="1.3" fill="#c2c2a8"/>
<circle cx="292.9" cy="131.0" r="0.9" fill="#c2c2a8"/>
<circle cx="305.5" cy="131.5" r="1.3" fill="#cbcdc2"/>
<circle cx="308.2" cy="131.0" r="1.1" fill="#cbcdc2"/>
<circle cx="309.9" cy="129.8" r="1.2" fill="#cbcdc2"/>
<circle cx="305.5" cy="131.3" r="0.9" fill="#cbcdc2"/>
<circle cx="312.5" cy="127.5" r="0.7" fill="#cbcdc2"/>
<circle cx="313.8" cy="129.8" r="1.0" fill="#cbcdc2"/>
<circle cx="311.2" cy="128.8" r="1.0" fill="#cbcdc2"/>
<circle cx="307.2" cy="131.7" r="0.7" fill="#cbcdc2"/>
<circle cx="309.0" cy="132.6" r="1.2" fill="#cbcdc2"/>
<circle cx="312.7" cy="131.4" r="1.2" fill="#cbcdc2"/>
<rect x="270" y="139.20" width="50" height="14.6" fill="#76807a"/>
<ellipse cx="294.0" cy="146.5" rx="5.30" ry="5.30" fill="#7f8882" stroke="#8d958d" stroke-width="1.1"/>
<ellipse cx="277.7" cy="146.5" rx="5.30" ry="5.30" fill="#858e87" stroke="#9ba299" stroke-width="1.1"/>
<rect x="270" y="156.20" width="50" height="14.6" fill="#737c75"/>
<ellipse cx="278.3" cy="163.5" rx="4.50" ry="4.50" fill="#888e82" stroke="#a7aa96" stroke-width="1.1"/>
<rect x="270" y="173.20" width="50" height="14.6" fill="#877e6e"/>
<ellipse cx="279.5" cy="180.5" rx="5.00" ry="5.00" fill="#e8c8a0" stroke="#f5dfc0" stroke-width="0.9"/>
<circle cx="280.0" cy="180.4" r="0.9" fill="#d2b895" opacity="0.6"/>
<circle cx="281.9" cy="179.6" r="1.2" fill="#d2b895" opacity="0.6"/>
<circle cx="281.8" cy="181.3" r="1.1" fill="#d2b895" opacity="0.6"/>
<ellipse cx="294.3" cy="180.5" rx="4.90" ry="4.90" fill="#b7a387" stroke="#e2c49d" stroke-width="1.2" stroke-dasharray="2.2 0.9"/>
<circle cx="296.1" cy="179.2" r="1.2" fill="#d9bd98"/>
<circle cx="295.8" cy="182.9" r="0.8" fill="#d9bd98"/>
<circle cx="291.8" cy="182.2" r="1.2" fill="#d9bd98"/>
<circle cx="294.6" cy="181.2" r="0.9" fill="#d9bd98"/>
<circle cx="292.9" cy="180.3" r="0.8" fill="#d9bd98"/>
<ellipse cx="309.0" cy="180.5" rx="4.90" ry="4.90" fill="#b7a387" stroke="#e2c49d" stroke-width="1.2" stroke-dasharray="2.2 0.9"/>
<circle cx="309.1" cy="183.1" r="1.2" fill="#d9bd98"/>
<circle cx="311.0" cy="181.0" r="1.2" fill="#d9bd98"/>
<circle cx="311.9" cy="181.2" r="0.8" fill="#d9bd98"/>
<circle cx="307.4" cy="179.3" r="1.1" fill="#d9bd98"/>
<circle cx="308.5" cy="181.9" r="1.0" fill="#d9bd98"/>
<rect x="270" y="190.20" width="50" height="14.6" fill="#6c7b77"/>
<ellipse cx="279.4" cy="197.5" rx="5.30" ry="5.30" fill="#cfceb1" stroke="#e0dec8" stroke-width="0.9"/>
<circle cx="277.8" cy="198.3" r="1.2" fill="#b9bca4" opacity="0.6"/>
<circle cx="279.3" cy="197.5" r="1.3" fill="#b9bca4" opacity="0.6"/>
<circle cx="278.7" cy="197.5" r="1.4" fill="#b9bca4" opacity="0.6"/>
<ellipse cx="296.2" cy="197.5" rx="5.30" ry="5.30" fill="#cac9ae" stroke="#d9d9c3" stroke-width="0.9"/>
<circle cx="296.4" cy="196.2" r="0.9" fill="#b5b8a2" opacity="0.6"/>
<circle cx="295.9" cy="197.6" r="0.9" fill="#b5b8a2" opacity="0.6"/>
<circle cx="296.0" cy="197.6" r="1.2" fill="#b5b8a2" opacity="0.6"/>
<ellipse cx="309.8" cy="197.5" rx="5.90" ry="5.90" fill="#cac9ae" stroke="#d9d9c3" stroke-width="0.9"/>
<circle cx="309.7" cy="197.5" r="1.3" fill="#b5b8a2" opacity="0.6"/>
<circle cx="311.8" cy="198.6" r="1.4" fill="#b5b8a2" opacity="0.6"/>
<circle cx="309.6" cy="197.5" r="1.2" fill="#b5b8a2" opacity="0.6"/>
<rect x="270" y="207.20" width="50" height="14.6" fill="#6c7b77"/>
<ellipse cx="279.6" cy="214.5" rx="5.10" ry="5.10" fill="#cfceb1" stroke="#e0dec8" stroke-width="0.9"/>
<circle cx="277.8" cy="216.3" r="0.9" fill="#b9bca4" opacity="0.6"/>
<circle cx="281.3" cy="212.4" r="1.4" fill="#b9bca4" opacity="0.6"/>
<circle cx="279.8" cy="214.0" r="1.6" fill="#b9bca4" opacity="0.6"/>
<ellipse cx="291.8" cy="214.5" rx="5.00" ry="5.00" fill="#c4c5aa" stroke="#d2d3be" stroke-width="0.9"/>
<circle cx="289.3" cy="214.6" r="1.5" fill="#b0b49f" opacity="0.6"/>
<circle cx="292.9" cy="216.3" r="1.5" fill="#b0b49f" opacity="0.6"/>
<circle cx="292.7" cy="214.9" r="1.4" fill="#b0b49f" opacity="0.6"/>
<ellipse cx="311.3" cy="214.5" rx="5.60" ry="5.60" fill="#cac9ae" stroke="#d9d9c3" stroke-width="0.9"/>
<circle cx="312.7" cy="216.7" r="1.0" fill="#b5b8a2" opacity="0.6"/>
<circle cx="311.5" cy="214.1" r="1.2" fill="#b5b8a2" opacity="0.6"/>
<circle cx="311.8" cy="214.2" r="1.0" fill="#b5b8a2" opacity="0.6"/>
<rect x="270" y="224.20" width="50" height="14.6" fill="#877e6e"/>
<ellipse cx="310.0" cy="231.5" rx="5.50" ry="5.50" fill="#a4947d" stroke="#cfb593" stroke-width="1.1"/>
<ellipse cx="279.3" cy="231.5" rx="5.40" ry="5.40" fill="#e3c49d" stroke="#efdabc" stroke-width="0.9"/>
<circle cx="278.4" cy="231.5" r="0.8" fill="#ceb593" opacity="0.6"/>
<circle cx="279.5" cy="231.9" r="1.5" fill="#ceb593" opacity="0.6"/>
<circle cx="278.2" cy="229.2" r="0.9" fill="#ceb593" opacity="0.6"/>
<ellipse cx="294.9" cy="231.5" rx="5.50" ry="5.50" fill="#b7a387" stroke="#e2c49d" stroke-width="1.2" stroke-dasharray="2.2 0.9"/>
<circle cx="295.0" cy="231.0" r="1.0" fill="#d9bd98"/>
<circle cx="293.9" cy="230.4" r="1.2" fill="#d9bd98"/>
<circle cx="292.6" cy="230.7" r="1.2" fill="#d9bd98"/>
<circle cx="298.2" cy="234.0" r="1.1" fill="#d9bd98"/>
<circle cx="292.3" cy="233.6" r="0.9" fill="#d9bd98"/>
<rect x="270" y="241.20" width="50" height="14.6" fill="#8a8274"/>
<ellipse cx="279.6" cy="248.5" rx="4.90" ry="4.90" fill="#958e80" stroke="#a59f91" stroke-width="1.1"/>
<circle cx="303.2" cy="249.5" r="0.9" fill="#d2d0c2"/>
<rect x="270" y="258.20" width="50" height="14.6" fill="#6c7877"/>
<ellipse cx="293.4" cy="265.5" rx="5.20" ry="5.20" fill="#76817f" stroke="#858f8b" stroke-width="1.1"/>
<ellipse cx="310.5" cy="265.5" rx="5.20" ry="5.20" fill="#76817f" stroke="#858f8b" stroke-width="1.1"/>
<ellipse cx="278.0" cy="265.5" rx="5.00" ry="5.00" fill="#a6aa99" stroke="#b0b4a7" stroke-width="0.9"/>
<circle cx="279.5" cy="265.4" r="1.1" fill="#9a9f92" opacity="0.6"/>
<circle cx="278.1" cy="264.3" r="0.9" fill="#9a9f92" opacity="0.6"/>
<circle cx="278.0" cy="265.4" r="1.5" fill="#9a9f92" opacity="0.6"/>
<rect x="270" y="275.20" width="50" height="14.6" fill="#877e6e"/>
<ellipse cx="279.6" cy="282.5" rx="5.50" ry="5.50" fill="#e3c49d" stroke="#efdabc" stroke-width="0.9"/>
<circle cx="279.6" cy="284.4" r="1.6" fill="#ceb593" opacity="0.6"/>
<circle cx="277.9" cy="281.5" r="1.1" fill="#ceb593" opacity="0.6"/>
<circle cx="279.7" cy="282.5" r="0.9" fill="#ceb593" opacity="0.6"/>
<ellipse cx="293.4" cy="282.5" rx="5.10" ry="5.10" fill="#baa588" stroke="#e8c8a0" stroke-width="1.2" stroke-dasharray="2.2 0.9"/>
<circle cx="292.2" cy="281.4" r="1.0" fill="#ddc19a"/>
<circle cx="293.8" cy="282.2" r="0.8" fill="#ddc19a"/>
<circle cx="293.4" cy="282.4" r="0.7" fill="#ddc19a"/>
<circle cx="293.2" cy="282.8" r="0.9" fill="#ddc19a"/>
<circle cx="293.8" cy="284.7" r="1.1" fill="#ddc19a"/>
<circle cx="311.0" cy="284.8" r="2.0" fill="#e7c89f"/>
<circle cx="312.4" cy="284.7" r="1.7" fill="#e7c89f"/>
<circle cx="310.8" cy="283.2" r="2.3" fill="#e7c89f"/>
<circle cx="312.3" cy="280.6" r="1.9" fill="#e7c89f"/>
<circle cx="310.2" cy="282.8" r="2.3" fill="#e7c89f"/>
<circle cx="308.3" cy="281.8" r="2.3" fill="#e7c89f"/>
<circle cx="307.0" cy="283.5" r="2.4" fill="#e7c89f"/>
<rect x="323" y="54.20" width="50" height="14.6" fill="#6e7a79"/>
<ellipse cx="344.5" cy="61.5" rx="4.90" ry="4.90" fill="#768180" stroke="#838d89" stroke-width="1.1"/>
<ellipse cx="366.0" cy="61.5" rx="4.90" ry="4.90" fill="#75807e" stroke="#7f8986" stroke-width="1.1"/>
<ellipse cx="331.2" cy="61.5" rx="4.90" ry="4.90" fill="#7e8886" stroke="#969e99" stroke-width="1.1"/>
<rect x="323" y="71.20" width="50" height="14.6" fill="#6e7a78"/>
<ellipse cx="332.5" cy="78.5" rx="4.80" ry="4.80" fill="#7e8885" stroke="#969e98" stroke-width="1.1"/>
<ellipse cx="348.3" cy="78.5" rx="5.10" ry="5.10" fill="#7c8783" stroke="#919a94" stroke-width="1.1"/>
<rect x="323" y="88.20" width="50" height="14.6" fill="#657474"/>
<ellipse cx="333.0" cy="95.5" rx="4.70" ry="4.70" fill="#6c7a79" stroke="#778482" stroke-width="1.1"/>
<ellipse cx="349.0" cy="95.5" rx="4.70" ry="4.70" fill="#6c7a79" stroke="#778482" stroke-width="1.1"/>
<circle cx="335.7" cy="93.8" r="1.6" fill="#e7e2bf"/>
<circle cx="341.9" cy="92.6" r="1.4" fill="#e7e2bf"/>
<circle cx="350.4" cy="93.5" r="1.4" fill="#e7e2bf"/>
<circle cx="347.6" cy="97.2" r="1.8" fill="#e7e2bf"/>
<rect x="323" y="105.20" width="50" height="14.6" fill="#8e8170"/>
<ellipse cx="332.3" cy="112.5" rx="5.10" ry="5.10" fill="#e9c9a0" stroke="#f5dfc0" stroke-width="0.9"/>
<circle cx="332.3" cy="114.9" r="0.8" fill="#d4b995" opacity="0.6"/>
<circle cx="331.2" cy="112.3" r="1.0" fill="#d4b995" opacity="0.6"/>
<circle cx="334.3" cy="113.3" r="0.8" fill="#d4b995" opacity="0.6"/>
<ellipse cx="347.0" cy="112.5" rx="4.70" ry="4.70" fill="#e9c9a0" stroke="#f5dfc0" stroke-width="0.9"/>
<circle cx="344.8" cy="111.8" r="0.9" fill="#d4b995" opacity="0.6"/>
<circle cx="347.5" cy="113.9" r="1.2" fill="#d4b995" opacity="0.6"/>
<circle cx="345.7" cy="110.9" r="0.9" fill="#d4b995" opacity="0.6"/>
<ellipse cx="362.5" cy="112.5" rx="5.10" ry="5.10" fill="#bba588" stroke="#e4c59d" stroke-width="1.2" stroke-dasharray="2.2 0.9"/>
<circle cx="362.1" cy="113.6" r="0.7" fill="#dbbe98"/>
<circle cx="364.8" cy="110.6" r="1.1" fill="#dbbe98"/>
<circle cx="365.7" cy="112.6" r="1.1" fill="#dbbe98"/>
<circle cx="359.7" cy="113.1" r="1.0" fill="#dbbe98"/>
<circle cx="362.6" cy="112.9" r="0.8" fill="#dbbe98"/>
<rect x="323" y="122.20" width="50" height="14.6" fill="#636e6c"/>
<ellipse cx="332.6" cy="129.5" rx="5.40" ry="5.40" fill="#cdcbaf" stroke="#deddc6" stroke-width="0.9"/>
<circle cx="333.5" cy="129.7" r="1.4" fill="#b6b7a0" opacity="0.6"/>
<circle cx="331.8" cy="127.2" r="1.4" fill="#b6b7a0" opacity="0.6"/>
<circle cx="332.4" cy="131.1" r="1.1" fill="#b6b7a0" opacity="0.6"/>
<ellipse cx="346.0" cy="129.5" rx="4.90" ry="4.90" fill="#9b9f8f" stroke="#cdcbae" stroke-width="1.2" stroke-dasharray="2.2 0.9"/>
<circle cx="346.4" cy="127.7" r="0.9" fill="#c2c1a7"/>
<circle cx="343.8" cy="126.8" r="0.8" fill="#c2c1a7"/>
<circle cx="346.0" cy="129.5" r="0.9" fill="#c2c1a7"/>
<circle cx="346.2" cy="132.2" r="1.3" fill="#c2c1a7"/>
<circle cx="346.0" cy="128.3" r="1.2" fill="#c2c1a7"/>
<ellipse cx="363.4" cy="129.5" rx="5.30" ry="5.30" fill="#979d96" stroke="#c5c8bd" stroke-width="1.2" stroke-dasharray="2.2 0.9"/>
<circle cx="362.9" cy="130.3" r="1.2" fill="#bbbeb4"/>
<circle cx="361.5" cy="127.5" r="1.1" fill="#bbbeb4"/>
<circle cx="365.3" cy="129.2" r="1.2" fill="#bbbeb4"/>
<circle cx="362.3" cy="126.3" r="1.0" fill="#bbbeb4"/>
<circle cx="363.0" cy="127.2" r="0.9" fill="#bbbeb4"/>
<rect x="323" y="139.20" width="50" height="14.6" fill="#7b847e"/>
<ellipse cx="331.2" cy="146.5" rx="5.10" ry="5.10" fill="#848c85" stroke="#919890" stroke-width="1.1"/>
<ellipse cx="346.5" cy="146.5" rx="5.10" ry="5.10" fill="#828b84" stroke="#8d958d" stroke-width="1.1"/>
<rect x="323" y="156.20" width="50" height="14.6" fill="#6c7573"/>
<ellipse cx="331.4" cy="163.5" rx="4.50" ry="4.50" fill="#7c8480" stroke="#959b95" stroke-width="1.1"/>
<ellipse cx="348.0" cy="163.5" rx="4.90" ry="4.90" fill="#7a827f" stroke="#909690" stroke-width="1.1"/>
<rect x="323" y="173.20" width="50" height="14.6" fill="#888473"/>
<ellipse cx="334.3" cy="180.5" rx="5.30" ry="5.30" fill="#d6d0b0" stroke="#e4e0c7" stroke-width="0.9"/>
<circle cx="334.7" cy="182.2" r="0.9" fill="#c5c0a3" opacity="0.6"/>
<circle cx="334.6" cy="180.3" r="0.8" fill="#c5c0a3" opacity="0.6"/>
<circle cx="336.3" cy="182.1" r="1.1" fill="#c5c0a3" opacity="0.6"/>
<ellipse cx="348.6" cy="180.5" rx="5.10" ry="5.10" fill="#b3ae95" stroke="#dad5b4" stroke-width="1.2" stroke-dasharray="2.2 0.9"/>
<circle cx="348.7" cy="180.6" r="0.7" fill="#d2ccad"/>
<circle cx="347.7" cy="178.2" r="1.1" fill="#d2ccad"/>
<circle cx="348.6" cy="180.3" r="1.1" fill="#d2ccad"/>
<circle cx="346.6" cy="182.9" r="1.2" fill="#d2ccad"/>
<circle cx="348.8" cy="180.3" r="1.2" fill="#d2ccad"/>
<ellipse cx="362.0" cy="180.5" rx="4.80" ry="4.80" fill="#b1ac93" stroke="#d6d0b0" stroke-width="1.2" stroke-dasharray="2.2 0.9"/>
<circle cx="364.8" cy="178.8" r="0.8" fill="#cdc8a9"/>
<circle cx="362.1" cy="180.9" r="0.7" fill="#cdc8a9"/>
<circle cx="363.6" cy="178.2" r="1.1" fill="#cdc8a9"/>
<circle cx="363.0" cy="178.5" r="0.9" fill="#cdc8a9"/>
<circle cx="362.3" cy="180.7" r="1.2" fill="#cdc8a9"/>
<rect x="323" y="190.20" width="50" height="14.6" fill="#62726e"/>
<ellipse cx="332.3" cy="197.5" rx="5.50" ry="4.70" fill="#cdccaf" stroke="#deddc7" stroke-width="0.9"/>
<circle cx="332.6" cy="198.3" r="1.1" fill="#b5b8a1" opacity="0.6"/>
<circle cx="333.0" cy="197.6" r="1.0" fill="#b5b8a1" opacity="0.6"/>
<circle cx="332.1" cy="196.6" r="1.1" fill="#b5b8a1" opacity="0.6"/>
<ellipse cx="345.3" cy="197.5" rx="5.00" ry="5.00" fill="#c7c7ab" stroke="#d7d7c1" stroke-width="0.9"/>
<circle cx="346.6" cy="197.2" r="1.5" fill="#b0b49e" opacity="0.6"/>
<circle cx="345.2" cy="197.4" r="1.1" fill="#b0b49e" opacity="0.6"/>
<circle cx="343.4" cy="198.3" r="1.1" fill="#b0b49e" opacity="0.6"/>
<ellipse cx="364.5" cy="197.5" rx="5.50" ry="5.50" fill="#c7c7ab" stroke="#d7d7c1" stroke-width="0.9"/>
<circle cx="364.1" cy="196.0" r="1.0" fill="#b0b49e" opacity="0.6"/>
<circle cx="364.7" cy="197.3" r="1.5" fill="#b0b49e" opacity="0.6"/>
<circle cx="364.5" cy="197.5" r="1.0" fill="#b0b49e" opacity="0.6"/>
<rect x="323" y="207.20" width="50" height="14.6" fill="#62726e"/>
<ellipse cx="332.6" cy="214.5" rx="5.40" ry="5.40" fill="#cdccaf" stroke="#deddc7" stroke-width="0.9"/>
<circle cx="332.8" cy="211.7" r="0.8" fill="#b5b8a1" opacity="0.6"/>
<circle cx="331.2" cy="214.6" r="1.4" fill="#b5b8a1" opacity="0.6"/>
<circle cx="333.2" cy="215.8" r="1.1" fill="#b5b8a1" opacity="0.6"/>
<ellipse cx="345.7" cy="214.5" rx="5.30" ry="5.30" fill="#c7c7ab" stroke="#d7d7c1" stroke-width="0.9"/>
<circle cx="346.1" cy="213.9" r="1.6" fill="#b0b49e" opacity="0.6"/>
<circle cx="345.6" cy="215.1" r="1.4" fill="#b0b49e" opacity="0.6"/>
<circle cx="345.4" cy="214.5" r="1.3" fill="#b0b49e" opacity="0.6"/>
<ellipse cx="365.6" cy="214.5" rx="5.30" ry="5.30" fill="#96a098" stroke="#c5c9bd" stroke-width="1.2" stroke-dasharray="2.2 0.9"/>
<circle cx="368.4" cy="216.0" r="1.1" fill="#bac0b5"/>
<circle cx="366.2" cy="212.1" r="0.9" fill="#bac0b5"/>
<circle cx="364.3" cy="215.4" r="1.2" fill="#bac0b5"/>
<circle cx="368.6" cy="216.3" r="0.7" fill="#bac0b5"/>
<circle cx="365.9" cy="215.5" r="1.2" fill="#bac0b5"/>
<rect x="323" y="224.20" width="50" height="14.6" fill="#887f6f"/>
<ellipse cx="361.2" cy="231.5" rx="5.50" ry="5.50" fill="#a5957e" stroke="#cfb693" stroke-width="1.1"/>
<ellipse cx="331.5" cy="231.5" rx="5.30" ry="5.30" fill="#e3c59d" stroke="#efdabc" stroke-width="0.9"/>
<circle cx="330.4" cy="231.5" r="1.5" fill="#cfb593" opacity="0.6"/>
<circle cx="331.6" cy="232.8" r="1.2" fill="#cfb593" opacity="0.6"/>
<circle cx="331.6" cy="229.4" r="1.3" fill="#cfb593" opacity="0.6"/>
<ellipse cx="346.0" cy="231.5" rx="5.50" ry="5.50" fill="#b8a487" stroke="#e2c49d" stroke-width="1.2" stroke-dasharray="2.2 0.9"/>
<circle cx="345.2" cy="232.6" r="0.8" fill="#d9bd98"/>
<circle cx="347.5" cy="229.2" r="1.1" fill="#d9bd98"/>
<circle cx="346.9" cy="233.1" r="1.2" fill="#d9bd98"/>
<circle cx="345.5" cy="231.2" r="1.0" fill="#d9bd98"/>
<circle cx="346.7" cy="230.8" r="0.8" fill="#d9bd98"/>
<rect x="323" y="241.20" width="50" height="14.6" fill="#8e897c"/>
<ellipse cx="363.8" cy="248.5" rx="4.60" ry="4.60" fill="#948f82" stroke="#9d998c" stroke-width="1.1"/>
<ellipse cx="331.6" cy="248.5" rx="4.60" ry="4.60" fill="#989487" stroke="#a8a497" stroke-width="1.1"/>
<ellipse cx="347.6" cy="248.5" rx="4.60" ry="4.60" fill="#979285" stroke="#a4a093" stroke-width="1.1"/>
<rect x="323" y="258.20" width="50" height="14.6" fill="#61716f"/>
<ellipse cx="363.0" cy="265.5" rx="4.90" ry="4.90" fill="#687775" stroke="#73817d" stroke-width="1.1"/>
<ellipse cx="330.9" cy="265.5" rx="4.70" ry="4.70" fill="#778581" stroke="#99a29b" stroke-width="1.1"/>
<ellipse cx="345.3" cy="265.5" rx="4.90" ry="4.90" fill="#778581" stroke="#99a29b" stroke-width="1.1"/>
<rect x="323" y="275.20" width="50" height="14.6" fill="#877e6e"/>
<ellipse cx="335.1" cy="283.5" rx="6.40" ry="5.70" fill="#e8c8a0" stroke="#f5dfc0" stroke-width="0.9"/>
<circle cx="334.4" cy="285.5" r="1.5" fill="#d2b895" opacity="0.6"/>
<circle cx="335.4" cy="283.9" r="1.0" fill="#d2b895" opacity="0.6"/>
<circle cx="334.3" cy="284.9" r="0.9" fill="#d2b895" opacity="0.6"/>
<ellipse cx="366.3" cy="282.5" rx="2.90" ry="2.50" fill="#ddc19a" stroke="#e9d4b8" stroke-width="0.9"/>
<circle cx="366.2" cy="282.7" r="1.6" fill="#cab291" opacity="0.6"/>
<circle cx="366.3" cy="282.4" r="1.6" fill="#cab291" opacity="0.6"/>
<circle cx="366.8" cy="282.8" r="1.6" fill="#cab291" opacity="0.6"/>
<circle cx="351.3" cy="279.4" r="2.0" fill="#e7c89f"/>
<circle cx="351.4" cy="285.4" r="1.5" fill="#e7c89f"/>
<circle cx="351.0" cy="284.8" r="1.4" fill="#e7c89f"/>
<circle cx="347.0" cy="284.5" r="2.3" fill="#e7c89f"/>
<circle cx="346.6" cy="282.5" r="2.0" fill="#e7c89f"/>
<circle cx="352.4" cy="284.8" r="1.9" fill="#e7c89f"/>
<circle cx="349.9" cy="278.9" r="1.9" fill="#e7c89f"/>
<rect x="376" y="54.20" width="50" height="14.6" fill="#8c8575"/>
<ellipse cx="385.6" cy="61.5" rx="5.70" ry="5.70" fill="#a0947f" stroke="#beaa8d" stroke-width="1.1"/>
<rect x="376" y="71.20" width="50" height="14.6" fill="#86887e"/>
<ellipse cx="400.6" cy="78.5" rx="5.50" ry="5.50" fill="#8d8e84" stroke="#96988d" stroke-width="1.1"/>
<ellipse cx="386.5" cy="78.5" rx="5.80" ry="5.80" fill="#9b9686" stroke="#bbac92" stroke-width="1.1"/>
<rect x="376" y="88.20" width="50" height="14.6" fill="#7f847e"/>
<ellipse cx="386.0" cy="95.5" rx="5.00" ry="5.00" fill="#858983" stroke="#8d918a" stroke-width="1.1"/>
<circle cx="387.2" cy="92.1" r="1.3" fill="#dfdfd2"/>
<circle cx="398.8" cy="93.2" r="1.1" fill="#dadacd"/>
<circle cx="389.5" cy="97.9" r="1.3" fill="#dadacd"/>
<circle cx="384.8" cy="98.6" r="1.3" fill="#dadacd"/>
<circle cx="409.6" cy="98.2" r="1.1" fill="#d0d1c4"/>
<rect x="376" y="105.20" width="50" height="14.6" fill="#837e6e"/>
<ellipse cx="386.2" cy="112.5" rx="6.00" ry="6.00" fill="#e7c8a0" stroke="#f4dfc0" stroke-width="0.9"/>
<circle cx="384.1" cy="111.4" r="1.1" fill="#d1b895" opacity="0.6"/>
<circle cx="386.5" cy="114.8" r="1.5" fill="#d1b895" opacity="0.6"/>
<circle cx="386.5" cy="110.3" r="1.5" fill="#d1b895" opacity="0.6"/>
<ellipse cx="401.6" cy="112.5" rx="5.30" ry="5.30" fill="#ddc19a" stroke="#e9d4b8" stroke-width="0.9"/>
<circle cx="400.8" cy="110.9" r="1.2" fill="#c9b291" opacity="0.6"/>
<circle cx="400.9" cy="114.1" r="0.9" fill="#c9b291" opacity="0.6"/>
<circle cx="399.7" cy="113.6" r="1.4" fill="#c9b291" opacity="0.6"/>
<ellipse cx="416.5" cy="112.5" rx="5.70" ry="5.70" fill="#e2c49d" stroke="#efdabc" stroke-width="0.9"/>
<circle cx="416.0" cy="112.0" r="1.1" fill="#cdb593" opacity="0.6"/>
<circle cx="414.7" cy="113.0" r="1.1" fill="#cdb593" opacity="0.6"/>
<circle cx="415.2" cy="110.0" r="0.9" fill="#cdb593" opacity="0.6"/>
<rect x="376" y="122.20" width="50" height="14.6" fill="#7a837f"/>
<ellipse cx="385.0" cy="129.5" rx="4.90" ry="4.90" fill="#ddd9b9" stroke="#eeebd2" stroke-width="0.9"/>
<circle cx="383.9" cy="127.8" r="1.1" fill="#c7c6ac" opacity="0.6"/>
<circle cx="382.5" cy="129.7" r="0.8" fill="#c7c6ac" opacity="0.6"/>
<circle cx="384.6" cy="129.4" r="1.4" fill="#c7c6ac" opacity="0.6"/>
<ellipse cx="402.9" cy="129.5" rx="4.60" ry="4.60" fill="#d8d5b6" stroke="#e8e5ce" stroke-width="0.9"/>
<circle cx="404.1" cy="129.0" r="0.9" fill="#c3c3aa" opacity="0.6"/>
<circle cx="401.7" cy="128.9" r="1.4" fill="#c3c3aa" opacity="0.6"/>
<circle cx="401.3" cy="129.4" r="1.5" fill="#c3c3aa" opacity="0.6"/>
<ellipse cx="418.9" cy="129.5" rx="4.70" ry="4.70" fill="#d8d5b6" stroke="#e8e5ce" stroke-width="0.9"/>
<circle cx="417.9" cy="129.4" r="1.6" fill="#c3c3aa" opacity="0.6"/>
<circle cx="419.3" cy="131.2" r="1.1" fill="#c3c3aa" opacity="0.6"/>
<circle cx="418.9" cy="129.2" r="1.6" fill="#c3c3aa" opacity="0.6"/>
<rect x="376" y="139.20" width="50" height="14.6" fill="#827b6f"/>
<ellipse cx="385.0" cy="146.5" rx="5.00" ry="5.00" fill="#878074" stroke="#8e887c" stroke-width="1.1"/>
<rect x="376" y="156.20" width="50" height="14.6" fill="#827a6b"/>
<ellipse cx="385.6" cy="163.5" rx="6.30" ry="6.30" fill="#a49d87" stroke="#aaa391" stroke-width="0.9"/>
<circle cx="385.5" cy="163.6" r="1.0" fill="#9c9581" opacity="0.6"/>
<circle cx="385.6" cy="163.5" r="1.1" fill="#9c9581" opacity="0.6"/>
<circle cx="383.6" cy="164.6" r="1.1" fill="#9c9581" opacity="0.6"/>
<rect x="376" y="173.20" width="50" height="14.6" fill="#827a6b"/>
<ellipse cx="384.8" cy="180.5" rx="5.60" ry="5.60" fill="#e2c49c" stroke="#eed9bc" stroke-width="0.9"/>
<circle cx="384.7" cy="181.2" r="1.4" fill="#ccb391" opacity="0.6"/>
<circle cx="386.2" cy="179.9" r="1.0" fill="#ccb391" opacity="0.6"/>
<circle cx="385.2" cy="179.4" r="1.0" fill="#ccb391" opacity="0.6"/>
<ellipse cx="400.5" cy="180.5" rx="5.30" ry="5.30" fill="#b4a185" stroke="#e1c39c" stroke-width="1.2" stroke-dasharray="2.2 0.9"/>
<circle cx="402.6" cy="182.8" r="1.2" fill="#d7bc97"/>
<circle cx="399.2" cy="179.1" r="1.0" fill="#d7bc97"/>
<circle cx="401.1" cy="184.3" r="0.9" fill="#d7bc97"/>
<circle cx="398.4" cy="178.0" r="1.2" fill="#d7bc97"/>
<circle cx="399.3" cy="180.7" r="1.0" fill="#d7bc97"/>
<ellipse cx="417.7" cy="180.5" rx="5.50" ry="5.50" fill="#aca798" stroke="#d1d0c1" stroke-width="1.2" stroke-dasharray="2.2 0.9"/>
<circle cx="420.2" cy="183.0" r="0.9" fill="#c9c7b8"/>
<circle cx="418.4" cy="179.6" r="0.9" fill="#c9c7b8"/>
<circle cx="417.7" cy="182.3" r="0.8" fill="#c9c7b8"/>
<circle cx="420.7" cy="180.6" r="0.9" fill="#c9c7b8"/>
<circle cx="417.7" cy="181.8" r="1.0" fill="#c9c7b8"/>
<rect x="376" y="190.20" width="50" height="14.6" fill="#7e7c70"/>
<ellipse cx="385.1" cy="197.5" rx="5.90" ry="5.90" fill="#dbc09b" stroke="#e8d4b8" stroke-width="0.9"/>
<circle cx="383.3" cy="198.4" r="1.3" fill="#c7b191" opacity="0.6"/>
<circle cx="383.2" cy="199.7" r="1.5" fill="#c7b191" opacity="0.6"/>
<circle cx="387.5" cy="198.4" r="1.5" fill="#c7b191" opacity="0.6"/>
<ellipse cx="399.3" cy="197.5" rx="5.30" ry="5.30" fill="#c0ac8e" stroke="#c9baa3" stroke-width="0.9"/>
<circle cx="399.4" cy="197.1" r="1.5" fill="#b1a188" opacity="0.6"/>
<circle cx="399.3" cy="197.5" r="0.8" fill="#b1a188" opacity="0.6"/>
<circle cx="401.1" cy="196.9" r="1.0" fill="#b1a188" opacity="0.6"/>
<ellipse cx="416.9" cy="197.5" rx="5.40" ry="5.40" fill="#d6bc98" stroke="#e2cfb4" stroke-width="0.9"/>
<circle cx="417.2" cy="197.7" r="1.0" fill="#c2ae8f" opacity="0.6"/>
<circle cx="417.1" cy="196.5" r="0.9" fill="#c2ae8f" opacity="0.6"/>
<circle cx="418.8" cy="196.2" r="0.9" fill="#c2ae8f" opacity="0.6"/>
<rect x="376" y="207.20" width="50" height="14.6" fill="#7f7e72"/>
<ellipse cx="417.3" cy="214.5" rx="5.70" ry="5.70" fill="#8e8e81" stroke="#a6a598" stroke-width="1.1"/>
<ellipse cx="386.4" cy="214.5" rx="6.20" ry="6.20" fill="#e1c49e" stroke="#eedabc" stroke-width="0.9"/>
<circle cx="387.9" cy="213.2" r="1.4" fill="#cbb594" opacity="0.6"/>
<circle cx="385.0" cy="212.0" r="1.4" fill="#cbb594" opacity="0.6"/>
<circle cx="386.7" cy="214.0" r="1.4" fill="#cbb594" opacity="0.6"/>
<ellipse cx="400.3" cy="214.5" rx="5.10" ry="5.10" fill="#bba98d" stroke="#c3b69f" stroke-width="0.9"/>
<circle cx="398.3" cy="214.1" r="1.2" fill="#ae9f87" opacity="0.6"/>
<circle cx="401.4" cy="213.5" r="1.0" fill="#ae9f87" opacity="0.6"/>
<circle cx="400.3" cy="214.9" r="1.2" fill="#ae9f87" opacity="0.6"/>
<rect x="376" y="224.20" width="50" height="14.6" fill="#837b6c"/>
<ellipse cx="385.6" cy="231.5" rx="5.70" ry="5.70" fill="#e2c49d" stroke="#efd9bc" stroke-width="0.9"/>
<circle cx="386.9" cy="232.0" r="0.9" fill="#cdb492" opacity="0.6"/>
<circle cx="384.1" cy="231.6" r="1.2" fill="#cdb492" opacity="0.6"/>
<circle cx="385.6" cy="231.5" r="1.5" fill="#cdb492" opacity="0.6"/>
<ellipse cx="398.9" cy="231.5" rx="5.40" ry="5.40" fill="#d7bc97" stroke="#e3cfb3" stroke-width="0.9"/>
<circle cx="397.3" cy="231.8" r="1.3" fill="#c5ad8e" opacity="0.6"/>
<circle cx="399.5" cy="230.6" r="1.1" fill="#c5ad8e" opacity="0.6"/>
<circle cx="399.1" cy="231.4" r="1.3" fill="#c5ad8e" opacity="0.6"/>
<ellipse cx="416.0" cy="231.5" rx="6.40" ry="5.70" fill="#d7bc97" stroke="#e3cfb3" stroke-width="0.9"/>
<circle cx="415.9" cy="231.4" r="1.3" fill="#c5ad8e" opacity="0.6"/>
<circle cx="414.7" cy="229.0" r="1.1" fill="#c5ad8e" opacity="0.6"/>
<circle cx="417.7" cy="231.3" r="1.2" fill="#c5ad8e" opacity="0.6"/>
<rect x="376" y="241.20" width="50" height="14.6" fill="#7f7d72"/>
<ellipse cx="418.0" cy="248.5" rx="4.90" ry="4.90" fill="#858378" stroke="#8d8b80" stroke-width="1.1"/>
<ellipse cx="384.9" cy="248.5" rx="4.90" ry="4.90" fill="#8b897e" stroke="#9d9c90" stroke-width="1.1"/>
<ellipse cx="402.0" cy="248.5" rx="4.90" ry="4.90" fill="#89887c" stroke="#99978c" stroke-width="1.1"/>
<rect x="376" y="258.20" width="50" height="14.6" fill="#7d7b70"/>
<ellipse cx="401.0" cy="265.5" rx="4.80" ry="4.80" fill="#838176" stroke="#8b8a7e" stroke-width="1.1"/>
<ellipse cx="385.8" cy="265.5" rx="5.00" ry="5.00" fill="#bfac8e" stroke="#c8baa3" stroke-width="0.9"/>
<circle cx="385.9" cy="265.4" r="1.4" fill="#b1a188" opacity="0.6"/>
<circle cx="385.2" cy="264.9" r="1.5" fill="#b1a188" opacity="0.6"/>
<circle cx="385.0" cy="266.4" r="1.2" fill="#b1a188" opacity="0.6"/>
<rect x="376" y="275.20" width="50" height="14.6" fill="#837b6c"/>
<ellipse cx="384.8" cy="282.5" rx="5.00" ry="5.00" fill="#e2c49d" stroke="#efd9bc" stroke-width="0.9"/>
<circle cx="384.9" cy="281.9" r="1.1" fill="#cdb492" opacity="0.6"/>
<circle cx="383.5" cy="283.2" r="1.5" fill="#cdb492" opacity="0.6"/>
<circle cx="384.2" cy="284.6" r="1.1" fill="#cdb492" opacity="0.6"/>
<circle cx="398.5" cy="282.5" r="2.1" fill="#e6c89f"/>
<circle cx="404.1" cy="282.0" r="2.5" fill="#e6c89f"/>
<circle cx="399.5" cy="284.3" r="1.7" fill="#e6c89f"/>
<circle cx="397.8" cy="281.0" r="2.5" fill="#e6c89f"/>
<circle cx="404.2" cy="283.3" r="2.6" fill="#e6c89f"/>
<circle cx="399.8" cy="282.3" r="1.8" fill="#e6c89f"/>
<circle cx="402.6" cy="282.6" r="2.7" fill="#e6c89f"/>
<circle cx="413.0" cy="280.5" r="2.5" fill="#e6c89f"/>
<circle cx="418.8" cy="280.9" r="2.2" fill="#e6c89f"/>
<circle cx="413.2" cy="280.2" r="2.2" fill="#e6c89f"/>
<circle cx="414.9" cy="280.9" r="2.3" fill="#e6c89f"/>
<circle cx="412.0" cy="283.4" r="1.5" fill="#e6c89f"/>
<circle cx="416.2" cy="283.2" r="2.5" fill="#e6c89f"/>
<circle cx="418.9" cy="280.9" r="1.9" fill="#e6c89f"/>
<rect x="429" y="54.20" width="50" height="14.6" fill="#8b877b"/>
<ellipse cx="437.8" cy="61.5" rx="5.70" ry="5.70" fill="#9e9483" stroke="#b9a88e" stroke-width="1.1"/>
<rect x="429" y="71.20" width="50" height="14.6" fill="#878a80"/>
<ellipse cx="454.0" cy="78.5" rx="5.50" ry="5.50" fill="#8e9086" stroke="#979a8f" stroke-width="1.1"/>
<ellipse cx="439.6" cy="78.5" rx="6.20" ry="6.20" fill="#9a9787" stroke="#b7aa91" stroke-width="1.1"/>
<rect x="429" y="88.20" width="50" height="14.6" fill="#7e847f"/>
<circle cx="441.0" cy="91.4" r="1.0" fill="#ddd9b9"/>
<circle cx="438.3" cy="98.4" r="0.9" fill="#ddd9b9"/>
<circle cx="436.7" cy="98.6" r="1.0" fill="#ddd9b9"/>
<circle cx="439.9" cy="95.0" r="1.0" fill="#ddd9b9"/>
<circle cx="440.7" cy="95.9" r="1.2" fill="#ddd9b9"/>
<circle cx="432.9" cy="93.2" r="0.9" fill="#ddd9b9"/>
<circle cx="442.5" cy="95.8" r="1.0" fill="#ddd9b9"/>
<circle cx="444.4" cy="93.5" r="0.9" fill="#ddd9b9"/>
<circle cx="436.7" cy="96.4" r="1.1" fill="#ddd9b9"/>
<circle cx="439.1" cy="97.5" r="0.6" fill="#ddd9b9"/>
<circle cx="443.9" cy="95.6" r="0.7" fill="#ddd9b9"/>
<circle cx="440.4" cy="95.2" r="1.2" fill="#ddd9b9"/>
<circle cx="451.0" cy="98.1" r="1.0" fill="#d8d4b5"/>
<rect x="429" y="105.20" width="50" height="14.6" fill="#7a827f"/>
<circle cx="438.7" cy="112.9" r="1.1" fill="#e2debc"/>
<circle cx="438.4" cy="115.9" r="0.7" fill="#e2debc"/>
<circle cx="442.4" cy="113.6" r="1.1" fill="#e2debc"/>
<circle cx="440.8" cy="109.8" r="0.7" fill="#e2debc"/>
<circle cx="435.3" cy="110.1" r="0.9" fill="#e2debc"/>
<circle cx="440.5" cy="111.7" r="1.3" fill="#e2debc"/>
<circle cx="438.1" cy="112.1" r="0.6" fill="#e2debc"/>
<circle cx="435.6" cy="109.6" r="0.7" fill="#e2debc"/>
<circle cx="436.6" cy="115.7" r="0.7" fill="#e2debc"/>
<circle cx="440.4" cy="110.4" r="0.6" fill="#e2debc"/>
<circle cx="435.7" cy="114.7" r="0.9" fill="#e2debc"/>
<circle cx="437.4" cy="111.1" r="1.2" fill="#e2debc"/>
<circle cx="435.6" cy="114.9" r="1.0" fill="#e2debc"/>
<circle cx="435.5" cy="113.7" r="1.2" fill="#e2debc"/>
<circle cx="460.2" cy="111.4" r="1.0" fill="#d1ceb2"/>
<circle cx="456.2" cy="113.4" r="1.3" fill="#d1ceb2"/>
<circle cx="455.3" cy="109.4" r="0.8" fill="#d1ceb2"/>
<circle cx="453.0" cy="110.3" r="1.2" fill="#d1ceb2"/>
<circle cx="454.5" cy="111.3" r="0.9" fill="#d1ceb2"/>
<circle cx="458.6" cy="111.1" r="1.1" fill="#d1ceb2"/>
<circle cx="453.1" cy="110.5" r="1.2" fill="#d1ceb2"/>
<rect x="429" y="122.20" width="50" height="14.6" fill="#7f776a"/>
<ellipse cx="439.2" cy="129.5" rx="5.70" ry="5.70" fill="#eccca2" stroke="#fae4c5" stroke-width="0.9"/>
<circle cx="439.2" cy="129.5" r="1.0" fill="#d4b995" opacity="0.6"/>
<circle cx="437.6" cy="130.3" r="1.5" fill="#d4b995" opacity="0.6"/>
<circle cx="439.3" cy="129.4" r="1.5" fill="#d4b995" opacity="0.6"/>
<ellipse cx="453.3" cy="129.5" rx="5.10" ry="5.10" fill="#e6c79f" stroke="#f4dec0" stroke-width="0.9"/>
<circle cx="454.2" cy="127.3" r="1.3" fill="#cfb693" opacity="0.6"/>
<circle cx="453.0" cy="131.8" r="1.4" fill="#cfb693" opacity="0.6"/>
<circle cx="452.3" cy="127.2" r="1.1" fill="#cfb693" opacity="0.6"/>
<ellipse cx="468.0" cy="129.5" rx="5.90" ry="5.90" fill="#e6c79f" stroke="#f4dec0" stroke-width="0.9"/>
<circle cx="469.5" cy="130.4" r="1.4" fill="#cfb693" opacity="0.6"/>
<circle cx="468.7" cy="131.7" r="1.5" fill="#cfb693" opacity="0.6"/>
<circle cx="468.2" cy="131.4" r="1.3" fill="#cfb693" opacity="0.6"/>
<rect x="429" y="139.20" width="50" height="14.6" fill="#817a6e"/>
<ellipse cx="438.0" cy="146.5" rx="5.30" ry="5.30" fill="#878074" stroke="#8f897d" stroke-width="1.1"/>
<rect x="429" y="156.20" width="50" height="14.6" fill="#857e70"/>
<ellipse cx="439.0" cy="163.5" rx="5.30" ry="5.30" fill="#978b79" stroke="#b19f85" stroke-width="1.1"/>
<rect x="429" y="173.20" width="50" height="14.6" fill="#7e776a"/>
<ellipse cx="436.8" cy="180.5" rx="6.10" ry="5.20" fill="#e1c39c" stroke="#eed9bc" stroke-width="0.9"/>
<circle cx="436.2" cy="180.6" r="1.0" fill="#cbb291" opacity="0.6"/>
<circle cx="436.8" cy="178.3" r="1.2" fill="#cbb291" opacity="0.6"/>
<circle cx="439.0" cy="181.7" r="1.4" fill="#cbb291" opacity="0.6"/>
<ellipse cx="451.9" cy="180.5" rx="5.70" ry="5.00" fill="#dbbf99" stroke="#e8d3b7" stroke-width="0.9"/>
<circle cx="452.1" cy="182.0" r="1.5" fill="#c7af8f" opacity="0.6"/>
<circle cx="453.1" cy="179.6" r="1.2" fill="#c7af8f" opacity="0.6"/>
<circle cx="451.4" cy="180.2" r="1.0" fill="#c7af8f" opacity="0.6"/>
<ellipse cx="468.8" cy="180.5" rx="5.70" ry="5.70" fill="#b29f84" stroke="#e1c39c" stroke-width="1.2" stroke-dasharray="2.2 0.9"/>
<circle cx="470.1" cy="183.3" r="0.9" fill="#d6bb97"/>
<circle cx="467.2" cy="179.8" r="1.0" fill="#d6bb97"/>
<circle cx="468.9" cy="180.7" r="1.3" fill="#d6bb97"/>
<circle cx="468.5" cy="180.8" r="1.1" fill="#d6bb97"/>
<circle cx="469.0" cy="179.8" r="1.1" fill="#d6bb97"/>
<rect x="429" y="190.20" width="50" height="14.6" fill="#7e776a"/>
<ellipse cx="455.5" cy="197.5" rx="6.30" ry="4.50" fill="#9d8f7a" stroke="#ccb392" stroke-width="1.1"/>
<ellipse cx="439.8" cy="197.5" rx="7.00" ry="5.50" fill="#e1c39c" stroke="#eed9bc" stroke-width="0.9"/>
<circle cx="438.7" cy="198.7" r="0.8" fill="#cbb291" opacity="0.6"/>
<circle cx="443.3" cy="198.1" r="1.5" fill="#cbb291" opacity="0.6"/>
<circle cx="437.7" cy="197.6" r="1.0" fill="#cbb291" opacity="0.6"/>
<ellipse cx="469.5" cy="197.5" rx="6.80" ry="5.50" fill="#d6bb97" stroke="#e2ceb3" stroke-width="0.9"/>
<circle cx="469.8" cy="196.3" r="1.6" fill="#c2ac8d" opacity="0.6"/>
<circle cx="469.8" cy="195.1" r="1.6" fill="#c2ac8d" opacity="0.6"/>
<circle cx="469.5" cy="197.6" r="1.0" fill="#c2ac8d" opacity="0.6"/>
<rect x="429" y="207.20" width="50" height="14.6" fill="#7e776a"/>
<ellipse cx="439.4" cy="214.5" rx="5.90" ry="5.90" fill="#e1c39c" stroke="#eed9bc" stroke-width="0.9"/>
<circle cx="439.5" cy="214.7" r="0.8" fill="#cbb291" opacity="0.6"/>
<circle cx="436.9" cy="213.6" r="1.2" fill="#cbb291" opacity="0.6"/>
<circle cx="442.1" cy="213.6" r="0.9" fill="#cbb291" opacity="0.6"/>
<ellipse cx="453.7" cy="213.5" rx="5.70" ry="5.70" fill="#d0b694" stroke="#dbc9ae" stroke-width="0.9"/>
<circle cx="452.7" cy="212.8" r="0.9" fill="#bea88b" opacity="0.6"/>
<circle cx="454.4" cy="213.3" r="1.3" fill="#bea88b" opacity="0.6"/>
<circle cx="451.9" cy="211.3" r="1.3" fill="#bea88b" opacity="0.6"/>
<ellipse cx="470.7" cy="214.5" rx="5.50" ry="5.50" fill="#ac9a81" stroke="#d5ba96" stroke-width="1.2" stroke-dasharray="2.2 0.9"/>
<circle cx="469.2" cy="215.7" r="0.8" fill="#ccb392"/>
<circle cx="474.8" cy="213.6" r="0.8" fill="#ccb392"/>
<circle cx="471.7" cy="214.8" r="0.9" fill="#ccb392"/>
<circle cx="473.8" cy="212.3" r="1.2" fill="#ccb392"/>
<circle cx="473.9" cy="215.5" r="1.1" fill="#ccb392"/>
<rect x="429" y="224.20" width="50" height="14.6" fill="#7e776a"/>
<ellipse cx="469.2" cy="231.5" rx="5.20" ry="5.20" fill="#9d8f7a" stroke="#ccb392" stroke-width="1.1"/>
<ellipse cx="438.3" cy="231.5" rx="5.90" ry="5.90" fill="#b5a186" stroke="#e6c79f" stroke-width="1.2" stroke-dasharray="2.2 0.9"/>
<circle cx="435.6" cy="227.9" r="0.7" fill="#dbbf99"/>
<circle cx="440.4" cy="234.2" r="1.3" fill="#dbbf99"/>
<circle cx="437.7" cy="230.3" r="1.1" fill="#dbbf99"/>
<circle cx="438.3" cy="231.0" r="0.9" fill="#dbbf99"/>
<circle cx="438.3" cy="232.1" r="1.0" fill="#dbbf99"/>
<ellipse cx="452.7" cy="231.5" rx="4.90" ry="4.90" fill="#a9a598" stroke="#d0cfc1" stroke-width="1.2" stroke-dasharray="2.2 0.9"/>
<circle cx="453.1" cy="232.2" r="0.8" fill="#c8c6b8"/>
<circle cx="452.7" cy="231.5" r="1.1" fill="#c8c6b8"/>
<circle cx="452.7" cy="231.6" r="1.3" fill="#c8c6b8"/>
<circle cx="453.3" cy="234.8" r="1.2" fill="#c8c6b8"/>
<circle cx="453.1" cy="231.2" r="1.0" fill="#c8c6b8"/>
<rect x="429" y="241.20" width="50" height="14.6" fill="#7d7a70"/>
<ellipse cx="454.6" cy="248.5" rx="5.20" ry="5.20" fill="#838076" stroke="#8b897e" stroke-width="1.1"/>
<ellipse cx="438.3" cy="248.5" rx="5.20" ry="5.20" fill="#88857a" stroke="#97958a" stroke-width="1.1"/>
<rect x="429" y="258.20" width="50" height="14.6" fill="#7e7b70"/>
<ellipse cx="453.4" cy="265.5" rx="5.20" ry="5.20" fill="#848176" stroke="#8c8a7e" stroke-width="1.1"/>
<ellipse cx="438.3" cy="265.5" rx="5.40" ry="5.40" fill="#e1c49d" stroke="#eed9bc" stroke-width="0.9"/>
<circle cx="440.5" cy="267.0" r="1.5" fill="#cbb493" opacity="0.6"/>
<circle cx="437.4" cy="264.6" r="1.1" fill="#cbb493" opacity="0.6"/>
<circle cx="438.9" cy="264.3" r="1.3" fill="#cbb493" opacity="0.6"/>
<rect x="429" y="275.20" width="50" height="14.6" fill="#7e776a"/>
<circle cx="438.5" cy="283.8" r="1.4" fill="#eccca2"/>
<circle cx="436.6" cy="280.0" r="1.5" fill="#eccca2"/>
<circle cx="438.7" cy="281.2" r="1.9" fill="#eccca2"/>
<circle cx="438.5" cy="284.0" r="2.6" fill="#eccca2"/>
<circle cx="436.5" cy="283.7" r="2.0" fill="#eccca2"/>
<circle cx="435.7" cy="285.4" r="1.5" fill="#eccca2"/>
<circle cx="438.2" cy="282.4" r="2.6" fill="#eccca2"/>
<circle cx="451.4" cy="280.8" r="2.0" fill="#eccca2"/>
<circle cx="451.9" cy="284.6" r="1.6" fill="#eccca2"/>
<circle cx="449.2" cy="285.7" r="2.8" fill="#eccca2"/>
<circle cx="453.9" cy="281.9" r="1.7" fill="#eccca2"/>
<circle cx="453.5" cy="281.9" r="2.4" fill="#eccca2"/>
<circle cx="451.2" cy="286.5" r="1.3" fill="#eccca2"/>
<circle cx="453.5" cy="280.2" r="1.5" fill="#eccca2"/>
<circle cx="472.4" cy="282.5" r="2.1" fill="#eccca2"/>
<circle cx="469.1" cy="285.1" r="2.7" fill="#eccca2"/>
<circle cx="468.6" cy="285.6" r="1.5" fill="#eccca2"/>
<circle cx="469.7" cy="285.9" r="2.4" fill="#eccca2"/>
<circle cx="468.3" cy="283.6" r="1.4" fill="#eccca2"/>
<circle cx="465.1" cy="280.6" r="1.7" fill="#eccca2"/>
<circle cx="468.9" cy="285.7" r="2.4" fill="#eccca2"/>
<rect x="482" y="54.20" width="50" height="14.6" fill="#8b8475"/>
<ellipse cx="491.7" cy="61.5" rx="4.90" ry="4.90" fill="#9c907d" stroke="#b5a389" stroke-width="1.1"/>
<rect x="482" y="71.20" width="50" height="14.6" fill="#8a8375"/>
<ellipse cx="490.8" cy="78.5" rx="5.30" ry="5.30" fill="#928b7d" stroke="#9d9789" stroke-width="1.1"/>
<ellipse cx="505.3" cy="78.5" rx="5.30" ry="5.30" fill="#908a7c" stroke="#9a9486" stroke-width="1.1"/>
<rect x="482" y="88.20" width="50" height="14.6" fill="#7e7f79"/>
<circle cx="492.9" cy="92.1" r="0.7" fill="#e8e3bf"/>
<circle cx="495.9" cy="97.1" r="0.9" fill="#e8e3bf"/>
<circle cx="490.9" cy="94.4" r="1.2" fill="#e8e3bf"/>
<circle cx="488.4" cy="99.3" r="1.2" fill="#e8e3bf"/>
<circle cx="490.5" cy="95.5" r="1.2" fill="#e8e3bf"/>
<circle cx="485.7" cy="96.2" r="0.8" fill="#e8e3bf"/>
<circle cx="493.3" cy="99.5" r="0.9" fill="#e8e3bf"/>
<circle cx="493.1" cy="98.0" r="1.0" fill="#e8e3bf"/>
<circle cx="495.5" cy="95.6" r="0.9" fill="#e8e3bf"/>
<circle cx="489.1" cy="95.3" r="1.1" fill="#e8e3bf"/>
<circle cx="493.5" cy="91.4" r="0.8" fill="#e8e3bf"/>
<circle cx="490.3" cy="92.6" r="1.1" fill="#e8e3bf"/>
<circle cx="496.4" cy="97.2" r="1.3" fill="#e8e3bf"/>
<circle cx="486.9" cy="95.6" r="1.0" fill="#e8e3bf"/>
<rect x="482" y="105.20" width="50" height="14.6" fill="#83847f"/>
<ellipse cx="487.7" cy="112.5" rx="4.30" ry="4.30" fill="#e7c9a2" stroke="#f4dfc1" stroke-width="0.9"/>
<circle cx="487.7" cy="112.5" r="1.6" fill="#d1ba9a" opacity="0.6"/>
<circle cx="487.8" cy="112.9" r="0.9" fill="#d1ba9a" opacity="0.6"/>
<circle cx="487.7" cy="114.4" r="0.8" fill="#d1ba9a" opacity="0.6"/>
<ellipse cx="503.9" cy="112.5" rx="4.10" ry="4.10" fill="#b5a690" stroke="#e1c5a0" stroke-width="1.2" stroke-dasharray="2.2 0.9"/>
<circle cx="505.5" cy="113.6" r="0.8" fill="#d8bf9d"/>
<circle cx="505.6" cy="112.7" r="1.0" fill="#d8bf9d"/>
<circle cx="502.0" cy="112.2" r="0.8" fill="#d8bf9d"/>
<circle cx="505.3" cy="111.0" r="0.7" fill="#d8bf9d"/>
<circle cx="504.9" cy="113.5" r="1.0" fill="#d8bf9d"/>
<ellipse cx="524.1" cy="112.5" rx="4.10" ry="4.10" fill="#b2a48f" stroke="#dcc29e" stroke-width="1.2" stroke-dasharray="2.2 0.9"/>
<circle cx="524.0" cy="112.8" r="0.9" fill="#d3bb9b"/>
<circle cx="525.2" cy="113.8" r="1.2" fill="#d3bb9b"/>
<circle cx="525.1" cy="113.8" r="1.1" fill="#d3bb9b"/>
<circle cx="525.3" cy="114.5" r="1.3" fill="#d3bb9b"/>
<circle cx="523.2" cy="113.3" r="1.2" fill="#d3bb9b"/>
<rect x="482" y="122.20" width="50" height="14.6" fill="#84857f"/>
<ellipse cx="491.3" cy="129.5" rx="4.70" ry="4.70" fill="#e7c9a2" stroke="#f5dfc1" stroke-width="0.9"/>
<circle cx="490.3" cy="129.3" r="1.6" fill="#d1ba9a" opacity="0.6"/>
<circle cx="491.4" cy="128.7" r="1.0" fill="#d1ba9a" opacity="0.6"/>
<circle cx="490.7" cy="130.4" r="1.6" fill="#d1ba9a" opacity="0.6"/>
<ellipse cx="508.6" cy="129.5" rx="4.30" ry="4.30" fill="#e2c6a0" stroke="#efdabe" stroke-width="0.9"/>
<circle cx="509.3" cy="127.5" r="1.5" fill="#cdb799" opacity="0.6"/>
<circle cx="508.7" cy="129.4" r="1.2" fill="#cdb799" opacity="0.6"/>
<circle cx="510.7" cy="128.9" r="1.0" fill="#cdb799" opacity="0.6"/>
<ellipse cx="524.7" cy="129.5" rx="4.50" ry="4.50" fill="#e2c6a0" stroke="#efdabe" stroke-width="0.9"/>
<circle cx="523.4" cy="130.2" r="1.1" fill="#cdb799" opacity="0.6"/>
<circle cx="524.5" cy="129.5" r="1.1" fill="#cdb799" opacity="0.6"/>
<circle cx="524.7" cy="129.5" r="0.9" fill="#cdb799" opacity="0.6"/>
<rect x="482" y="139.20" width="50" height="14.6" fill="#84867f"/>
<ellipse cx="491.8" cy="146.5" rx="6.10" ry="6.10" fill="#969285" stroke="#b0a48f" stroke-width="1.1"/>
<rect x="482" y="156.20" width="50" height="14.6" fill="#877d68"/>
<rect x="482" y="173.20" width="50" height="14.6" fill="#7f796b"/>
<ellipse cx="491.6" cy="180.5" rx="4.80" ry="4.80" fill="#e1c49c" stroke="#eed9bc" stroke-width="0.9"/>
<circle cx="493.5" cy="180.1" r="1.5" fill="#cbb391" opacity="0.6"/>
<circle cx="490.2" cy="179.0" r="1.5" fill="#cbb391" opacity="0.6"/>
<circle cx="491.7" cy="180.4" r="1.3" fill="#cbb391" opacity="0.6"/>
<ellipse cx="505.0" cy="180.5" rx="4.90" ry="4.90" fill="#b2a085" stroke="#e1c39c" stroke-width="1.2" stroke-dasharray="2.2 0.9"/>
<circle cx="504.8" cy="182.9" r="0.9" fill="#d6bb97"/>
<circle cx="501.8" cy="179.6" r="1.1" fill="#d6bb97"/>
<circle cx="505.0" cy="182.4" r="1.0" fill="#d6bb97"/>
<circle cx="506.0" cy="180.2" r="0.9" fill="#d6bb97"/>
<circle cx="504.7" cy="180.2" r="1.1" fill="#d6bb97"/>
<ellipse cx="521.9" cy="180.5" rx="5.50" ry="5.50" fill="#af9e83" stroke="#dbbf99" stroke-width="1.2" stroke-dasharray="2.2 0.9"/>
<circle cx="524.0" cy="179.9" r="0.9" fill="#d1b894"/>
<circle cx="519.7" cy="181.0" r="0.8" fill="#d1b894"/>
<circle cx="522.3" cy="180.9" r="0.9" fill="#d1b894"/>
<circle cx="520.9" cy="181.2" r="0.8" fill="#d1b894"/>
<circle cx="523.9" cy="181.7" r="1.2" fill="#d1b894"/>
<rect x="482" y="190.20" width="50" height="14.6" fill="#7f796b"/>
<ellipse cx="491.0" cy="197.5" rx="5.70" ry="6.70" fill="#e1c49c" stroke="#eed9bc" stroke-width="0.9"/>
<circle cx="489.7" cy="196.2" r="1.3" fill="#cbb391" opacity="0.6"/>
<circle cx="491.6" cy="199.9" r="1.2" fill="#cbb391" opacity="0.6"/>
<circle cx="489.2" cy="196.9" r="1.2" fill="#cbb391" opacity="0.6"/>
<ellipse cx="506.7" cy="197.5" rx="5.30" ry="5.70" fill="#dcbf9a" stroke="#e8d4b7" stroke-width="0.9"/>
<circle cx="506.4" cy="198.2" r="1.0" fill="#c7b08f" opacity="0.6"/>
<circle cx="505.6" cy="197.4" r="1.3" fill="#c7b08f" opacity="0.6"/>
<circle cx="507.7" cy="197.6" r="1.5" fill="#c7b08f" opacity="0.6"/>
<ellipse cx="521.8" cy="197.5" rx="5.60" ry="6.30" fill="#dcbf9a" stroke="#e8d4b7" stroke-width="0.9"/>
<circle cx="521.9" cy="199.3" r="1.2" fill="#c7b08f" opacity="0.6"/>
<circle cx="521.2" cy="200.7" r="1.0" fill="#c7b08f" opacity="0.6"/>
<circle cx="521.9" cy="197.0" r="0.9" fill="#c7b08f" opacity="0.6"/>
<rect x="482" y="207.20" width="50" height="14.6" fill="#7f796b"/>
<ellipse cx="491.8" cy="214.5" rx="5.70" ry="4.50" fill="#e1c49c" stroke="#eed9bc" stroke-width="0.9"/>
<circle cx="492.7" cy="213.7" r="0.8" fill="#cbb391" opacity="0.6"/>
<circle cx="490.8" cy="215.2" r="1.4" fill="#cbb391" opacity="0.6"/>
<circle cx="492.3" cy="214.8" r="1.6" fill="#cbb391" opacity="0.6"/>
<ellipse cx="505.7" cy="214.5" rx="5.70" ry="4.20" fill="#e1c49c" stroke="#eed9bc" stroke-width="0.9"/>
<circle cx="505.7" cy="214.2" r="1.1" fill="#cbb391" opacity="0.6"/>
<circle cx="504.5" cy="215.7" r="1.3" fill="#cbb391" opacity="0.6"/>
<circle cx="507.1" cy="213.0" r="1.2" fill="#cbb391" opacity="0.6"/>
<ellipse cx="524.1" cy="214.5" rx="5.00" ry="5.00" fill="#af9e83" stroke="#dbbf99" stroke-width="1.2" stroke-dasharray="2.2 0.9"/>
<circle cx="523.9" cy="211.8" r="1.2" fill="#d1b894"/>
<circle cx="521.2" cy="215.0" r="1.1" fill="#d1b894"/>
<circle cx="524.5" cy="214.3" r="1.2" fill="#d1b894"/>
<circle cx="526.9" cy="214.6" r="1.1" fill="#d1b894"/>
<circle cx="520.5" cy="214.6" r="1.0" fill="#d1b894"/>
<rect x="482" y="224.20" width="50" height="14.6" fill="#7f796b"/>
<ellipse cx="521.2" cy="231.5" rx="5.90" ry="4.80" fill="#a0927c" stroke="#d1b894" stroke-width="1.1"/>
<ellipse cx="492.8" cy="231.5" rx="5.70" ry="5.70" fill="#e1c49c" stroke="#eed9bc" stroke-width="0.9"/>
<circle cx="490.8" cy="232.7" r="1.5" fill="#cbb391" opacity="0.6"/>
<circle cx="491.9" cy="230.8" r="1.2" fill="#cbb391" opacity="0.6"/>
<circle cx="490.7" cy="232.1" r="1.0" fill="#cbb391" opacity="0.6"/>
<ellipse cx="506.1" cy="231.5" rx="5.10" ry="4.50" fill="#dcbf9a" stroke="#e8d4b7" stroke-width="0.9"/>
<circle cx="504.9" cy="232.3" r="1.1" fill="#c7b08f" opacity="0.6"/>
<circle cx="505.2" cy="233.2" r="1.5" fill="#c7b08f" opacity="0.6"/>
<circle cx="504.9" cy="231.5" r="0.9" fill="#c7b08f" opacity="0.6"/>
<rect x="482" y="241.20" width="50" height="14.6" fill="#7d7a71"/>
<ellipse cx="506.3" cy="248.5" rx="4.60" ry="4.60" fill="#838077" stroke="#8b897f" stroke-width="1.1"/>
<ellipse cx="490.8" cy="248.5" rx="4.60" ry="4.60" fill="#88857b" stroke="#97958b" stroke-width="1.1"/>
<rect x="482" y="258.20" width="50" height="14.6" fill="#7d7a71"/>
<ellipse cx="491.3" cy="265.5" rx="5.20" ry="5.20" fill="#8b887f" stroke="#a09e93" stroke-width="1.1"/>
<ellipse cx="507.2" cy="265.5" rx="5.20" ry="5.20" fill="#89877d" stroke="#9c9a8f" stroke-width="1.1"/>
<rect x="482" y="275.20" width="50" height="14.6" fill="#7f796b"/>
<circle cx="492.4" cy="283.9" r="2.2" fill="#eccca2"/>
<circle cx="491.8" cy="281.9" r="2.7" fill="#eccca2"/>
<circle cx="491.2" cy="285.6" r="2.6" fill="#eccca2"/>
<circle cx="495.0" cy="282.1" r="1.9" fill="#eccca2"/>
<circle cx="493.4" cy="282.3" r="1.4" fill="#eccca2"/>
<circle cx="490.1" cy="281.4" r="2.7" fill="#eccca2"/>
<circle cx="493.5" cy="279.7" r="2.8" fill="#eccca2"/>
<circle cx="504.6" cy="282.1" r="2.3" fill="#eccca2"/>
<circle cx="506.0" cy="284.3" r="2.2" fill="#eccca2"/>
<circle cx="505.3" cy="286.2" r="2.3" fill="#eccca2"/>
<circle cx="506.8" cy="282.3" r="1.9" fill="#eccca2"/>
<circle cx="505.2" cy="284.5" r="2.2" fill="#eccca2"/>
<circle cx="512.4" cy="279.3" r="2.0" fill="#eccca2"/>
<circle cx="504.5" cy="283.9" r="2.8" fill="#eccca2"/>
<circle cx="520.1" cy="284.3" r="2.5" fill="#e6c79f"/>
<circle cx="522.4" cy="284.0" r="2.8" fill="#e6c79f"/>
<circle cx="522.6" cy="280.6" r="1.5" fill="#e6c79f"/>
<circle cx="523.8" cy="281.0" r="2.5" fill="#e6c79f"/>
<circle cx="524.8" cy="282.3" r="1.9" fill="#e6c79f"/>
<circle cx="522.5" cy="283.8" r="2.1" fill="#e6c79f"/>
<circle cx="520.0" cy="282.5" r="1.6" fill="#e6c79f"/>
</g>
<text x="15.6" y="18.8" font-size="19" fill="#111" stroke="#111" stroke-width="0.3">A</text>
<text x="15.6" y="45" font-size="12.5" fill="#231f20" stroke="#231f20" stroke-width="0.25">pGADT7-ABI2+</text>
<text x="14.4" y="65.2" font-size="12.5" fill="#231f20" stroke="#231f20" stroke-width="0.25">pGBKT7-Empty</text>
<text x="63.6" y="82.1" font-size="12.5" fill="#231f20" stroke="#231f20" stroke-width="0.25">-PYR1</text>
<text x="63.6" y="99.0" font-size="12.5" fill="#231f20" stroke="#231f20" stroke-width="0.25">-PYL1</text>
<text x="63.6" y="116.0" font-size="12.5" fill="#231f20" stroke="#231f20" stroke-width="0.25">-PYL2</text>
<text x="63.6" y="132.9" font-size="12.5" fill="#231f20" stroke="#231f20" stroke-width="0.25">-PYL3</text>
<text x="63.6" y="149.8" font-size="12.5" fill="#231f20" stroke="#231f20" stroke-width="0.25">-PYL4</text>
<text x="63.6" y="166.7" font-size="12.5" fill="#231f20" stroke="#231f20" stroke-width="0.25">-PYL5</text>
<text x="63.6" y="183.6" font-size="12.5" fill="#231f20" stroke="#231f20" stroke-width="0.25">-PYL6</text>
<text x="63.6" y="200.6" font-size="12.5" fill="#231f20" stroke="#231f20" stroke-width="0.25">-PYL7</text>
<text x="63.6" y="217.5" font-size="12.5" fill="#231f20" stroke="#231f20" stroke-width="0.25">-PYL8</text>
<text x="63.6" y="234.4" font-size="12.5" fill="#231f20" stroke="#231f20" stroke-width="0.25">-PYL9</text>
<text x="63.6" y="251.3" font-size="12.5" fill="#231f20" stroke="#231f20" stroke-width="0.25">-PYL10</text>
<text x="63.6" y="268.2" font-size="12.5" fill="#231f20" stroke="#231f20" stroke-width="0.25">-PYL11</text>
<text x="63.6" y="285.2" font-size="12.5" fill="#231f20" stroke="#231f20" stroke-width="0.25">-PYL12</text>
<text x="132.6" y="47.3" font-size="12.6" text-anchor="middle" fill="#231f20" stroke="#231f20" stroke-width="0.25">-L/-T</text>
<text x="190.5" y="47.3" font-size="12.6" text-anchor="middle" fill="#231f20" stroke="#231f20" stroke-width="0.25">DMSO</text>
<text x="242.2" y="47.3" font-size="12.6" text-anchor="middle" fill="#231f20" stroke="#231f20" stroke-width="0.25">10 µM</text>
<text x="294.2" y="47.3" font-size="12.6" text-anchor="middle" fill="#231f20" stroke="#231f20" stroke-width="0.25">10 µM</text>
<text x="347.1" y="47.3" font-size="12.6" text-anchor="middle" fill="#231f20" stroke="#231f20" stroke-width="0.25">50 µM</text>
<text x="400" y="47.3" font-size="12.6" text-anchor="middle" fill="#231f20" stroke="#231f20" stroke-width="0.25">100 µM</text>
<text x="453.1" y="47.3" font-size="12.6" text-anchor="middle" fill="#231f20" stroke="#231f20" stroke-width="0.25">150 µM</text>
<text x="504.6" y="47.3" font-size="12.6" text-anchor="middle" fill="#231f20" stroke="#231f20" stroke-width="0.25">200 µM</text>
<text x="242" y="19.9" font-size="12.6" text-anchor="middle" fill="#231f20" stroke="#231f20" stroke-width="0.25">ABA</text>
<text x="395.5" y="19.9" font-size="12.6" text-anchor="middle" fill="#231f20" stroke="#231f20" stroke-width="0.25">SLG1</text>
<rect x="220" y="29" width="44" height="1.6" fill="#6d6e71"/>
<rect x="287" y="29" width="222" height="1.6" fill="#6d6e71"/>
<text x="16.2" y="316.3" font-size="16.4" fill="#111" stroke="#111" stroke-width="0.3">B</text>
<rect x="123.6" y="327" width="2" height="177.8" fill="#000"/>
<rect x="119.2" y="502.8" width="376.4" height="2" fill="#000"/>
<rect x="119.3" y="326.88" width="5" height="1.5" fill="#000"/>
<rect x="119.3" y="385.60" width="5" height="1.5" fill="#000"/>
<rect x="119.3" y="444.32" width="5" height="1.5" fill="#000"/>
<text transform="translate(117.2,331.57) scale(1.13,1)" font-size="12.6" font-weight="bold" text-anchor="end" fill="#000">150</text>
<text transform="translate(117.2,390.30) scale(1.13,1)" font-size="12.6" font-weight="bold" text-anchor="end" fill="#000">100</text>
<text transform="translate(117.2,449.02) scale(1.13,1)" font-size="12.6" font-weight="bold" text-anchor="end" fill="#000">50</text>
<text transform="translate(117.2,507.75) scale(1.13,1)" font-size="12.6" font-weight="bold" text-anchor="end" fill="#000">0</text>
<rect x="128.40" y="386.30" width="5.2" height="117.45" fill="#fff" stroke="#000" stroke-width="1"/>
<line x1="131.00" y1="380.19" x2="131.00" y2="392.41" stroke="#222" stroke-width="0.9"/>
<line x1="129.90" y1="380.19" x2="132.10" y2="380.19" stroke="#222" stroke-width="1"/>
<line x1="129.90" y1="392.41" x2="132.10" y2="392.41" stroke="#222" stroke-width="1"/>
<rect x="136.30" y="448.43" width="5.2" height="55.32" fill="#fff"/>
<path d="M139.90 448.43h1.60v0.37h-1.60zM136.30 448.80h3.60v3.60h-3.60zM139.90 452.40h1.60v3.60h-1.60zM136.30 456.00h3.60v3.60h-3.60zM139.90 459.60h1.60v3.60h-1.60zM136.30 463.20h3.60v3.60h-3.60zM139.90 466.80h1.60v3.60h-1.60zM136.30 470.40h3.60v3.60h-3.60zM139.90 474.00h1.60v3.60h-1.60zM136.30 477.60h3.60v3.60h-3.60zM139.90 481.20h1.60v3.60h-1.60zM136.30 484.80h3.60v3.60h-3.60zM139.90 488.40h1.60v3.60h-1.60zM136.30 492.00h3.60v3.60h-3.60zM139.90 495.60h1.60v3.60h-1.60zM136.30 499.20h3.60v3.60h-3.60zM139.90 502.80h1.60v0.95h-1.60z" fill="#000"/>
<rect x="136.30" y="448.43" width="5.2" height="55.32" fill="none" stroke="#000" stroke-width="1"/>
<line x1="138.90" y1="437.39" x2="138.90" y2="459.47" stroke="#222" stroke-width="0.9"/>
<line x1="137.80" y1="437.39" x2="140.00" y2="437.39" stroke="#222" stroke-width="1"/>
<line x1="137.80" y1="459.47" x2="140.00" y2="459.47" stroke="#222" stroke-width="1"/>
<text transform="translate(138.90,438.29) scale(1.12,1)" font-size="15" text-anchor="middle" fill="#000">*</text>
<rect x="144.20" y="394.87" width="5.2" height="108.88" fill="#fff"/>
<path d="M144.20 396.30h5.20M144.20 401.60h5.20M144.20 406.90h5.20M144.20 412.20h5.20M144.20 417.50h5.20M144.20 422.80h5.20M144.20 428.10h5.20M144.20 433.40h5.20M144.20 438.70h5.20M144.20 444.00h5.20M144.20 449.30h5.20M144.20 454.60h5.20M144.20 459.90h5.20M144.20 465.20h5.20M144.20 470.50h5.20M144.20 475.80h5.20M144.20 481.10h5.20M144.20 486.40h5.20M144.20 491.70h5.20M144.20 497.00h5.20M144.20 502.30h5.20" stroke="#111" stroke-width="1"/>
<rect x="144.20" y="394.87" width="5.2" height="108.88" fill="none" stroke="#000" stroke-width="1"/>
<line x1="146.80" y1="389.00" x2="146.80" y2="400.75" stroke="#222" stroke-width="0.9"/>
<line x1="145.70" y1="389.00" x2="147.90" y2="389.00" stroke="#222" stroke-width="1"/>
<line x1="145.70" y1="400.75" x2="147.90" y2="400.75" stroke="#222" stroke-width="1"/>
<rect x="138.00" y="503" width="1.8" height="5.3" fill="#000"/>
<text transform="translate(140.40,516) scale(1.06,1) rotate(-45)" font-size="11" font-weight="bold" text-anchor="end" fill="#000">PYR1</text>
<rect x="156.93" y="386.30" width="5.2" height="117.45" fill="#fff" stroke="#000" stroke-width="1"/>
<line x1="159.53" y1="385.36" x2="159.53" y2="387.24" stroke="#222" stroke-width="0.9"/>
<line x1="158.43" y1="385.36" x2="160.62" y2="385.36" stroke="#222" stroke-width="1"/>
<line x1="158.43" y1="387.24" x2="160.62" y2="387.24" stroke="#222" stroke-width="1"/>
<rect x="164.83" y="455.48" width="5.2" height="48.27" fill="#fff"/>
<path d="M168.43 455.48h1.60v0.52h-1.60zM164.83 456.00h3.60v3.60h-3.60zM168.43 459.60h1.60v3.60h-1.60zM164.83 463.20h3.60v3.60h-3.60zM168.43 466.80h1.60v3.60h-1.60zM164.83 470.40h3.60v3.60h-3.60zM168.43 474.00h1.60v3.60h-1.60zM164.83 477.60h3.60v3.60h-3.60zM168.43 481.20h1.60v3.60h-1.60zM164.83 484.80h3.60v3.60h-3.60zM168.43 488.40h1.60v3.60h-1.60zM164.83 492.00h3.60v3.60h-3.60zM168.43 495.60h1.60v3.60h-1.60zM164.83 499.20h3.60v3.60h-3.60zM168.43 502.80h1.60v0.95h-1.60z" fill="#000"/>
<rect x="164.83" y="455.48" width="5.2" height="48.27" fill="none" stroke="#000" stroke-width="1"/>
<line x1="167.43" y1="442.56" x2="167.43" y2="468.40" stroke="#222" stroke-width="0.9"/>
<line x1="166.33" y1="442.56" x2="168.53" y2="442.56" stroke="#222" stroke-width="1"/>
<line x1="166.33" y1="468.40" x2="168.53" y2="468.40" stroke="#222" stroke-width="1"/>
<text transform="translate(167.43,443.46) scale(1.12,1)" font-size="15" text-anchor="middle" fill="#000">*</text>
<rect x="172.73" y="385.83" width="5.2" height="117.92" fill="#fff"/>
<path d="M172.73 391.00h5.20M172.73 396.30h5.20M172.73 401.60h5.20M172.73 406.90h5.20M172.73 412.20h5.20M172.73 417.50h5.20M172.73 422.80h5.20M172.73 428.10h5.20M172.73 433.40h5.20M172.73 438.70h5.20M172.73 444.00h5.20M172.73 449.30h5.20M172.73 454.60h5.20M172.73 459.90h5.20M172.73 465.20h5.20M172.73 470.50h5.20M172.73 475.80h5.20M172.73 481.10h5.20M172.73 486.40h5.20M172.73 491.70h5.20M172.73 497.00h5.20M172.73 502.30h5.20" stroke="#111" stroke-width="1"/>
<rect x="172.73" y="385.83" width="5.2" height="117.92" fill="none" stroke="#000" stroke-width="1"/>
<line x1="175.33" y1="382.31" x2="175.33" y2="389.35" stroke="#222" stroke-width="0.9"/>
<line x1="174.23" y1="382.31" x2="176.43" y2="382.31" stroke="#222" stroke-width="1"/>
<line x1="174.23" y1="389.35" x2="176.43" y2="389.35" stroke="#222" stroke-width="1"/>
<rect x="166.53" y="503" width="1.8" height="5.3" fill="#000"/>
<text transform="translate(168.93,516) scale(1.06,1) rotate(-45)" font-size="11" font-weight="bold" text-anchor="end" fill="#000">PYL1</text>
<rect x="185.45" y="386.30" width="5.2" height="117.45" fill="#fff" stroke="#000" stroke-width="1"/>
<line x1="188.05" y1="377.61" x2="188.05" y2="394.99" stroke="#222" stroke-width="0.9"/>
<line x1="186.95" y1="377.61" x2="189.15" y2="377.61" stroke="#222" stroke-width="1"/>
<line x1="186.95" y1="394.99" x2="189.15" y2="394.99" stroke="#222" stroke-width="1"/>
<rect x="193.35" y="452.19" width="5.2" height="51.56" fill="#fff"/>
<path d="M193.35 452.19h3.60v0.21h-3.60zM196.95 452.40h1.60v3.60h-1.60zM193.35 456.00h3.60v3.60h-3.60zM196.95 459.60h1.60v3.60h-1.60zM193.35 463.20h3.60v3.60h-3.60zM196.95 466.80h1.60v3.60h-1.60zM193.35 470.40h3.60v3.60h-3.60zM196.95 474.00h1.60v3.60h-1.60zM193.35 477.60h3.60v3.60h-3.60zM196.95 481.20h1.60v3.60h-1.60zM193.35 484.80h3.60v3.60h-3.60zM196.95 488.40h1.60v3.60h-1.60zM193.35 492.00h3.60v3.60h-3.60zM196.95 495.60h1.60v3.60h-1.60zM193.35 499.20h3.60v3.60h-3.60zM196.95 502.80h1.60v0.95h-1.60z" fill="#000"/>
<rect x="193.35" y="452.19" width="5.2" height="51.56" fill="none" stroke="#000" stroke-width="1"/>
<line x1="195.95" y1="445.02" x2="195.95" y2="459.35" stroke="#222" stroke-width="0.9"/>
<line x1="194.85" y1="445.02" x2="197.05" y2="445.02" stroke="#222" stroke-width="1"/>
<line x1="194.85" y1="459.35" x2="197.05" y2="459.35" stroke="#222" stroke-width="1"/>
<text transform="translate(195.95,445.92) scale(1.12,1)" font-size="15" text-anchor="middle" fill="#000">*</text>
<rect x="201.25" y="437.39" width="5.2" height="66.36" fill="#fff"/>
<path d="M201.25 438.70h5.20M201.25 444.00h5.20M201.25 449.30h5.20M201.25 454.60h5.20M201.25 459.90h5.20M201.25 465.20h5.20M201.25 470.50h5.20M201.25 475.80h5.20M201.25 481.10h5.20M201.25 486.40h5.20M201.25 491.70h5.20M201.25 497.00h5.20M201.25 502.30h5.20" stroke="#111" stroke-width="1"/>
<rect x="201.25" y="437.39" width="5.2" height="66.36" fill="none" stroke="#000" stroke-width="1"/>
<line x1="203.85" y1="428.46" x2="203.85" y2="446.32" stroke="#222" stroke-width="0.9"/>
<line x1="202.75" y1="428.46" x2="204.95" y2="428.46" stroke="#222" stroke-width="1"/>
<line x1="202.75" y1="446.32" x2="204.95" y2="446.32" stroke="#222" stroke-width="1"/>
<text transform="translate(203.85,429.36) scale(1.12,1)" font-size="15" text-anchor="middle" fill="#000">*</text>
<rect x="195.05" y="503" width="1.8" height="5.3" fill="#000"/>
<text transform="translate(197.45,516) scale(1.06,1) rotate(-45)" font-size="11" font-weight="bold" text-anchor="end" fill="#000">PYL2</text>
<rect x="213.98" y="386.30" width="5.2" height="117.45" fill="#fff" stroke="#000" stroke-width="1"/>
<line x1="216.58" y1="380.19" x2="216.58" y2="392.41" stroke="#222" stroke-width="0.9"/>
<line x1="215.48" y1="380.19" x2="217.68" y2="380.19" stroke="#222" stroke-width="1"/>
<line x1="215.48" y1="392.41" x2="217.68" y2="392.41" stroke="#222" stroke-width="1"/>
<rect x="221.88" y="457.83" width="5.2" height="45.92" fill="#fff"/>
<path d="M221.88 457.83h3.60v1.77h-3.60zM225.48 459.60h1.60v3.60h-1.60zM221.88 463.20h3.60v3.60h-3.60zM225.48 466.80h1.60v3.60h-1.60zM221.88 470.40h3.60v3.60h-3.60zM225.48 474.00h1.60v3.60h-1.60zM221.88 477.60h3.60v3.60h-3.60zM225.48 481.20h1.60v3.60h-1.60zM221.88 484.80h3.60v3.60h-3.60zM225.48 488.40h1.60v3.60h-1.60zM221.88 492.00h3.60v3.60h-3.60zM225.48 495.60h1.60v3.60h-1.60zM221.88 499.20h3.60v3.60h-3.60zM225.48 502.80h1.60v0.95h-1.60z" fill="#000"/>
<rect x="221.88" y="457.83" width="5.2" height="45.92" fill="none" stroke="#000" stroke-width="1"/>
<line x1="224.48" y1="455.24" x2="224.48" y2="460.41" stroke="#222" stroke-width="0.9"/>
<line x1="223.38" y1="455.24" x2="225.58" y2="455.24" stroke="#222" stroke-width="1"/>
<line x1="223.38" y1="460.41" x2="225.58" y2="460.41" stroke="#222" stroke-width="1"/>
<text transform="translate(224.48,456.14) scale(1.12,1)" font-size="15" text-anchor="middle" fill="#000">*</text>
<rect x="229.78" y="440.21" width="5.2" height="63.54" fill="#fff"/>
<path d="M229.78 444.00h5.20M229.78 449.30h5.20M229.78 454.60h5.20M229.78 459.90h5.20M229.78 465.20h5.20M229.78 470.50h5.20M229.78 475.80h5.20M229.78 481.10h5.20M229.78 486.40h5.20M229.78 491.70h5.20M229.78 497.00h5.20M229.78 502.30h5.20" stroke="#111" stroke-width="1"/>
<rect x="229.78" y="440.21" width="5.2" height="63.54" fill="none" stroke="#000" stroke-width="1"/>
<line x1="232.38" y1="433.05" x2="232.38" y2="447.37" stroke="#222" stroke-width="0.9"/>
<line x1="231.28" y1="433.05" x2="233.48" y2="433.05" stroke="#222" stroke-width="1"/>
<line x1="231.28" y1="447.37" x2="233.48" y2="447.37" stroke="#222" stroke-width="1"/>
<text transform="translate(232.38,433.95) scale(1.12,1)" font-size="15" text-anchor="middle" fill="#000">*</text>
<rect x="223.58" y="503" width="1.8" height="5.3" fill="#000"/>
<text transform="translate(225.98,516) scale(1.06,1) rotate(-45)" font-size="11" font-weight="bold" text-anchor="end" fill="#000">PYL3</text>
<rect x="242.50" y="386.30" width="5.2" height="117.45" fill="#fff" stroke="#000" stroke-width="1"/>
<line x1="245.10" y1="375.14" x2="245.10" y2="397.46" stroke="#222" stroke-width="0.9"/>
<line x1="244.00" y1="375.14" x2="246.20" y2="375.14" stroke="#222" stroke-width="1"/>
<line x1="244.00" y1="397.46" x2="246.20" y2="397.46" stroke="#222" stroke-width="1"/>
<rect x="250.40" y="409.44" width="5.2" height="94.31" fill="#fff"/>
<path d="M254.00 409.44h1.60v3.36h-1.60zM250.40 412.80h3.60v3.60h-3.60zM254.00 416.40h1.60v3.60h-1.60zM250.40 420.00h3.60v3.60h-3.60zM254.00 423.60h1.60v3.60h-1.60zM250.40 427.20h3.60v3.60h-3.60zM254.00 430.80h1.60v3.60h-1.60zM250.40 434.40h3.60v3.60h-3.60zM254.00 438.00h1.60v3.60h-1.60zM250.40 441.60h3.60v3.60h-3.60zM254.00 445.20h1.60v3.60h-1.60zM250.40 448.80h3.60v3.60h-3.60zM254.00 452.40h1.60v3.60h-1.60zM250.40 456.00h3.60v3.60h-3.60zM254.00 459.60h1.60v3.60h-1.60zM250.40 463.20h3.60v3.60h-3.60zM254.00 466.80h1.60v3.60h-1.60zM250.40 470.40h3.60v3.60h-3.60zM254.00 474.00h1.60v3.60h-1.60zM250.40 477.60h3.60v3.60h-3.60zM254.00 481.20h1.60v3.60h-1.60zM250.40 484.80h3.60v3.60h-3.60zM254.00 488.40h1.60v3.60h-1.60zM250.40 492.00h3.60v3.60h-3.60zM254.00 495.60h1.60v3.60h-1.60zM250.40 499.20h3.60v3.60h-3.60zM254.00 502.80h1.60v0.95h-1.60z" fill="#000"/>
<rect x="250.40" y="409.44" width="5.2" height="94.31" fill="none" stroke="#000" stroke-width="1"/>
<line x1="253.00" y1="406.97" x2="253.00" y2="411.90" stroke="#222" stroke-width="0.9"/>
<line x1="251.90" y1="406.97" x2="254.10" y2="406.97" stroke="#222" stroke-width="1"/>
<line x1="251.90" y1="411.90" x2="254.10" y2="411.90" stroke="#222" stroke-width="1"/>
<text transform="translate(253.00,407.87) scale(1.12,1)" font-size="15" text-anchor="middle" fill="#000">*</text>
<rect x="258.30" y="389.82" width="5.2" height="113.93" fill="#fff"/>
<path d="M258.30 391.00h5.20M258.30 396.30h5.20M258.30 401.60h5.20M258.30 406.90h5.20M258.30 412.20h5.20M258.30 417.50h5.20M258.30 422.80h5.20M258.30 428.10h5.20M258.30 433.40h5.20M258.30 438.70h5.20M258.30 444.00h5.20M258.30 449.30h5.20M258.30 454.60h5.20M258.30 459.90h5.20M258.30 465.20h5.20M258.30 470.50h5.20M258.30 475.80h5.20M258.30 481.10h5.20M258.30 486.40h5.20M258.30 491.70h5.20M258.30 497.00h5.20M258.30 502.30h5.20" stroke="#111" stroke-width="1"/>
<rect x="258.30" y="389.82" width="5.2" height="113.93" fill="none" stroke="#000" stroke-width="1"/>
<line x1="260.90" y1="385.83" x2="260.90" y2="393.82" stroke="#222" stroke-width="0.9"/>
<line x1="259.80" y1="385.83" x2="262.00" y2="385.83" stroke="#222" stroke-width="1"/>
<line x1="259.80" y1="393.82" x2="262.00" y2="393.82" stroke="#222" stroke-width="1"/>
<rect x="252.10" y="503" width="1.8" height="5.3" fill="#000"/>
<text transform="translate(254.50,516) scale(1.06,1) rotate(-45)" font-size="11" font-weight="bold" text-anchor="end" fill="#000">PYL4</text>
<rect x="271.02" y="386.30" width="5.2" height="117.45" fill="#fff" stroke="#000" stroke-width="1"/>
<line x1="273.62" y1="384.77" x2="273.62" y2="387.83" stroke="#222" stroke-width="0.9"/>
<line x1="272.52" y1="384.77" x2="274.73" y2="384.77" stroke="#222" stroke-width="1"/>
<line x1="272.52" y1="387.83" x2="274.73" y2="387.83" stroke="#222" stroke-width="1"/>
<rect x="278.92" y="401.80" width="5.2" height="101.95" fill="#fff"/>
<path d="M278.92 401.80h3.60v0.20h-3.60zM282.52 402.00h1.60v3.60h-1.60zM278.92 405.60h3.60v3.60h-3.60zM282.52 409.20h1.60v3.60h-1.60zM278.92 412.80h3.60v3.60h-3.60zM282.52 416.40h1.60v3.60h-1.60zM278.92 420.00h3.60v3.60h-3.60zM282.52 423.60h1.60v3.60h-1.60zM278.92 427.20h3.60v3.60h-3.60zM282.52 430.80h1.60v3.60h-1.60zM278.92 434.40h3.60v3.60h-3.60zM282.52 438.00h1.60v3.60h-1.60zM278.92 441.60h3.60v3.60h-3.60zM282.52 445.20h1.60v3.60h-1.60zM278.92 448.80h3.60v3.60h-3.60zM282.52 452.40h1.60v3.60h-1.60zM278.92 456.00h3.60v3.60h-3.60zM282.52 459.60h1.60v3.60h-1.60zM278.92 463.20h3.60v3.60h-3.60zM282.52 466.80h1.60v3.60h-1.60zM278.92 470.40h3.60v3.60h-3.60zM282.52 474.00h1.60v3.60h-1.60zM278.92 477.60h3.60v3.60h-3.60zM282.52 481.20h1.60v3.60h-1.60zM278.92 484.80h3.60v3.60h-3.60zM282.52 488.40h1.60v3.60h-1.60zM278.92 492.00h3.60v3.60h-3.60zM282.52 495.60h1.60v3.60h-1.60zM278.92 499.20h3.60v3.60h-3.60zM282.52 502.80h1.60v0.95h-1.60z" fill="#000"/>
<rect x="278.92" y="401.80" width="5.2" height="101.95" fill="none" stroke="#000" stroke-width="1"/>
<line x1="281.52" y1="398.51" x2="281.52" y2="405.09" stroke="#222" stroke-width="0.9"/>
<line x1="280.42" y1="398.51" x2="282.62" y2="398.51" stroke="#222" stroke-width="1"/>
<line x1="280.42" y1="405.09" x2="282.62" y2="405.09" stroke="#222" stroke-width="1"/>
<text transform="translate(281.52,399.41) scale(1.12,1)" font-size="15" text-anchor="middle" fill="#000">*</text>
<rect x="286.82" y="391.94" width="5.2" height="111.81" fill="#fff"/>
<path d="M286.82 396.30h5.20M286.82 401.60h5.20M286.82 406.90h5.20M286.82 412.20h5.20M286.82 417.50h5.20M286.82 422.80h5.20M286.82 428.10h5.20M286.82 433.40h5.20M286.82 438.70h5.20M286.82 444.00h5.20M286.82 449.30h5.20M286.82 454.60h5.20M286.82 459.90h5.20M286.82 465.20h5.20M286.82 470.50h5.20M286.82 475.80h5.20M286.82 481.10h5.20M286.82 486.40h5.20M286.82 491.70h5.20M286.82 497.00h5.20M286.82 502.30h5.20" stroke="#111" stroke-width="1"/>
<rect x="286.82" y="391.94" width="5.2" height="111.81" fill="none" stroke="#000" stroke-width="1"/>
<line x1="289.42" y1="390.76" x2="289.42" y2="393.11" stroke="#222" stroke-width="0.9"/>
<line x1="288.32" y1="390.76" x2="290.52" y2="390.76" stroke="#222" stroke-width="1"/>
<line x1="288.32" y1="393.11" x2="290.52" y2="393.11" stroke="#222" stroke-width="1"/>
<rect x="280.62" y="503" width="1.8" height="5.3" fill="#000"/>
<text transform="translate(283.02,516) scale(1.06,1) rotate(-45)" font-size="11" font-weight="bold" text-anchor="end" fill="#000">PYL5</text>
<rect x="299.55" y="386.30" width="5.2" height="117.45" fill="#fff" stroke="#000" stroke-width="1"/>
<line x1="302.15" y1="376.43" x2="302.15" y2="396.17" stroke="#222" stroke-width="0.9"/>
<line x1="301.05" y1="376.43" x2="303.25" y2="376.43" stroke="#222" stroke-width="1"/>
<line x1="301.05" y1="396.17" x2="303.25" y2="396.17" stroke="#222" stroke-width="1"/>
<rect x="307.45" y="438.68" width="5.2" height="65.07" fill="#fff"/>
<path d="M311.05 438.68h1.60v2.92h-1.60zM307.45 441.60h3.60v3.60h-3.60zM311.05 445.20h1.60v3.60h-1.60zM307.45 448.80h3.60v3.60h-3.60zM311.05 452.40h1.60v3.60h-1.60zM307.45 456.00h3.60v3.60h-3.60zM311.05 459.60h1.60v3.60h-1.60zM307.45 463.20h3.60v3.60h-3.60zM311.05 466.80h1.60v3.60h-1.60zM307.45 470.40h3.60v3.60h-3.60zM311.05 474.00h1.60v3.60h-1.60zM307.45 477.60h3.60v3.60h-3.60zM311.05 481.20h1.60v3.60h-1.60zM307.45 484.80h3.60v3.60h-3.60zM311.05 488.40h1.60v3.60h-1.60zM307.45 492.00h3.60v3.60h-3.60zM311.05 495.60h1.60v3.60h-1.60zM307.45 499.20h3.60v3.60h-3.60zM311.05 502.80h1.60v0.95h-1.60z" fill="#000"/>
<rect x="307.45" y="438.68" width="5.2" height="65.07" fill="none" stroke="#000" stroke-width="1"/>
<line x1="310.05" y1="436.22" x2="310.05" y2="441.15" stroke="#222" stroke-width="0.9"/>
<line x1="308.95" y1="436.22" x2="311.15" y2="436.22" stroke="#222" stroke-width="1"/>
<line x1="308.95" y1="441.15" x2="311.15" y2="441.15" stroke="#222" stroke-width="1"/>
<text transform="translate(310.05,437.12) scale(1.12,1)" font-size="15" text-anchor="middle" fill="#000">*</text>
<rect x="315.35" y="427.29" width="5.2" height="76.46" fill="#fff"/>
<path d="M315.35 428.10h5.20M315.35 433.40h5.20M315.35 438.70h5.20M315.35 444.00h5.20M315.35 449.30h5.20M315.35 454.60h5.20M315.35 459.90h5.20M315.35 465.20h5.20M315.35 470.50h5.20M315.35 475.80h5.20M315.35 481.10h5.20M315.35 486.40h5.20M315.35 491.70h5.20M315.35 497.00h5.20M315.35 502.30h5.20" stroke="#111" stroke-width="1"/>
<rect x="315.35" y="427.29" width="5.2" height="76.46" fill="none" stroke="#000" stroke-width="1"/>
<line x1="317.95" y1="415.78" x2="317.95" y2="438.80" stroke="#222" stroke-width="0.9"/>
<line x1="316.85" y1="415.78" x2="319.05" y2="415.78" stroke="#222" stroke-width="1"/>
<line x1="316.85" y1="438.80" x2="319.05" y2="438.80" stroke="#222" stroke-width="1"/>
<text transform="translate(317.95,416.68) scale(1.12,1)" font-size="15" text-anchor="middle" fill="#000">*</text>
<rect x="309.15" y="503" width="1.8" height="5.3" fill="#000"/>
<text transform="translate(311.55,516) scale(1.06,1) rotate(-45)" font-size="11" font-weight="bold" text-anchor="end" fill="#000">PYL6</text>
<rect x="328.08" y="386.30" width="5.2" height="117.45" fill="#fff" stroke="#000" stroke-width="1"/>
<line x1="330.68" y1="382.78" x2="330.68" y2="389.82" stroke="#222" stroke-width="0.9"/>
<line x1="329.58" y1="382.78" x2="331.78" y2="382.78" stroke="#222" stroke-width="1"/>
<line x1="329.58" y1="389.82" x2="331.78" y2="389.82" stroke="#222" stroke-width="1"/>
<rect x="335.98" y="429.29" width="5.2" height="74.46" fill="#fff"/>
<path d="M335.98 429.29h3.60v1.51h-3.60zM339.58 430.80h1.60v3.60h-1.60zM335.98 434.40h3.60v3.60h-3.60zM339.58 438.00h1.60v3.60h-1.60zM335.98 441.60h3.60v3.60h-3.60zM339.58 445.20h1.60v3.60h-1.60zM335.98 448.80h3.60v3.60h-3.60zM339.58 452.40h1.60v3.60h-1.60zM335.98 456.00h3.60v3.60h-3.60zM339.58 459.60h1.60v3.60h-1.60zM335.98 463.20h3.60v3.60h-3.60zM339.58 466.80h1.60v3.60h-1.60zM335.98 470.40h3.60v3.60h-3.60zM339.58 474.00h1.60v3.60h-1.60zM335.98 477.60h3.60v3.60h-3.60zM339.58 481.20h1.60v3.60h-1.60zM335.98 484.80h3.60v3.60h-3.60zM339.58 488.40h1.60v3.60h-1.60zM335.98 492.00h3.60v3.60h-3.60zM339.58 495.60h1.60v3.60h-1.60zM335.98 499.20h3.60v3.60h-3.60zM339.58 502.80h1.60v0.95h-1.60z" fill="#000"/>
<rect x="335.98" y="429.29" width="5.2" height="74.46" fill="none" stroke="#000" stroke-width="1"/>
<line x1="338.58" y1="423.41" x2="338.58" y2="435.16" stroke="#222" stroke-width="0.9"/>
<line x1="337.48" y1="423.41" x2="339.68" y2="423.41" stroke="#222" stroke-width="1"/>
<line x1="337.48" y1="435.16" x2="339.68" y2="435.16" stroke="#222" stroke-width="1"/>
<text transform="translate(338.58,424.31) scale(1.12,1)" font-size="15" text-anchor="middle" fill="#000">*</text>
<rect x="343.88" y="442.44" width="5.2" height="61.31" fill="#fff"/>
<path d="M343.88 444.00h5.20M343.88 449.30h5.20M343.88 454.60h5.20M343.88 459.90h5.20M343.88 465.20h5.20M343.88 470.50h5.20M343.88 475.80h5.20M343.88 481.10h5.20M343.88 486.40h5.20M343.88 491.70h5.20M343.88 497.00h5.20M343.88 502.30h5.20" stroke="#111" stroke-width="1"/>
<rect x="343.88" y="442.44" width="5.2" height="61.31" fill="none" stroke="#000" stroke-width="1"/>
<line x1="346.48" y1="441.74" x2="346.48" y2="443.15" stroke="#222" stroke-width="0.9"/>
<line x1="345.38" y1="441.74" x2="347.58" y2="441.74" stroke="#222" stroke-width="1"/>
<line x1="345.38" y1="443.15" x2="347.58" y2="443.15" stroke="#222" stroke-width="1"/>
<text transform="translate(346.48,442.64) scale(1.12,1)" font-size="15" text-anchor="middle" fill="#000">*</text>
<rect x="337.68" y="503" width="1.8" height="5.3" fill="#000"/>
<text transform="translate(340.08,516) scale(1.06,1) rotate(-45)" font-size="11" font-weight="bold" text-anchor="end" fill="#000">PYL7</text>
<rect x="356.60" y="386.30" width="5.2" height="117.45" fill="#fff" stroke="#000" stroke-width="1"/>
<line x1="359.20" y1="382.19" x2="359.20" y2="390.41" stroke="#222" stroke-width="0.9"/>
<line x1="358.10" y1="382.19" x2="360.30" y2="382.19" stroke="#222" stroke-width="1"/>
<line x1="358.10" y1="390.41" x2="360.30" y2="390.41" stroke="#222" stroke-width="1"/>
<rect x="364.50" y="411.20" width="5.2" height="92.55" fill="#fff"/>
<path d="M368.10 411.20h1.60v1.60h-1.60zM364.50 412.80h3.60v3.60h-3.60zM368.10 416.40h1.60v3.60h-1.60zM364.50 420.00h3.60v3.60h-3.60zM368.10 423.60h1.60v3.60h-1.60zM364.50 427.20h3.60v3.60h-3.60zM368.10 430.80h1.60v3.60h-1.60zM364.50 434.40h3.60v3.60h-3.60zM368.10 438.00h1.60v3.60h-1.60zM364.50 441.60h3.60v3.60h-3.60zM368.10 445.20h1.60v3.60h-1.60zM364.50 448.80h3.60v3.60h-3.60zM368.10 452.40h1.60v3.60h-1.60zM364.50 456.00h3.60v3.60h-3.60zM368.10 459.60h1.60v3.60h-1.60zM364.50 463.20h3.60v3.60h-3.60zM368.10 466.80h1.60v3.60h-1.60zM364.50 470.40h3.60v3.60h-3.60zM368.10 474.00h1.60v3.60h-1.60zM364.50 477.60h3.60v3.60h-3.60zM368.10 481.20h1.60v3.60h-1.60zM364.50 484.80h3.60v3.60h-3.60zM368.10 488.40h1.60v3.60h-1.60zM364.50 492.00h3.60v3.60h-3.60zM368.10 495.60h1.60v3.60h-1.60zM364.50 499.20h3.60v3.60h-3.60zM368.10 502.80h1.60v0.95h-1.60z" fill="#000"/>
<rect x="364.50" y="411.20" width="5.2" height="92.55" fill="none" stroke="#000" stroke-width="1"/>
<line x1="367.10" y1="405.56" x2="367.10" y2="416.84" stroke="#222" stroke-width="0.9"/>
<line x1="366.00" y1="405.56" x2="368.20" y2="405.56" stroke="#222" stroke-width="1"/>
<line x1="366.00" y1="416.84" x2="368.20" y2="416.84" stroke="#222" stroke-width="1"/>
<text transform="translate(367.10,406.46) scale(1.12,1)" font-size="15" text-anchor="middle" fill="#000">*</text>
<rect x="372.40" y="390.41" width="5.2" height="113.34" fill="#fff"/>
<path d="M372.40 396.30h5.20M372.40 401.60h5.20M372.40 406.90h5.20M372.40 412.20h5.20M372.40 417.50h5.20M372.40 422.80h5.20M372.40 428.10h5.20M372.40 433.40h5.20M372.40 438.70h5.20M372.40 444.00h5.20M372.40 449.30h5.20M372.40 454.60h5.20M372.40 459.90h5.20M372.40 465.20h5.20M372.40 470.50h5.20M372.40 475.80h5.20M372.40 481.10h5.20M372.40 486.40h5.20M372.40 491.70h5.20M372.40 497.00h5.20M372.40 502.30h5.20" stroke="#111" stroke-width="1"/>
<rect x="372.40" y="390.41" width="5.2" height="113.34" fill="none" stroke="#000" stroke-width="1"/>
<line x1="375.00" y1="387.36" x2="375.00" y2="393.46" stroke="#222" stroke-width="0.9"/>
<line x1="373.90" y1="387.36" x2="376.10" y2="387.36" stroke="#222" stroke-width="1"/>
<line x1="373.90" y1="393.46" x2="376.10" y2="393.46" stroke="#222" stroke-width="1"/>
<rect x="366.20" y="503" width="1.8" height="5.3" fill="#000"/>
<text transform="translate(368.60,516) scale(1.06,1) rotate(-45)" font-size="11" font-weight="bold" text-anchor="end" fill="#000">PYL8</text>
<rect x="385.12" y="386.30" width="5.2" height="117.45" fill="#fff" stroke="#000" stroke-width="1"/>
<line x1="387.73" y1="384.77" x2="387.73" y2="387.83" stroke="#222" stroke-width="0.9"/>
<line x1="386.62" y1="384.77" x2="388.83" y2="384.77" stroke="#222" stroke-width="1"/>
<line x1="386.62" y1="387.83" x2="388.83" y2="387.83" stroke="#222" stroke-width="1"/>
<rect x="393.02" y="428.46" width="5.2" height="75.29" fill="#fff"/>
<path d="M393.02 428.46h3.60v2.34h-3.60zM396.62 430.80h1.60v3.60h-1.60zM393.02 434.40h3.60v3.60h-3.60zM396.62 438.00h1.60v3.60h-1.60zM393.02 441.60h3.60v3.60h-3.60zM396.62 445.20h1.60v3.60h-1.60zM393.02 448.80h3.60v3.60h-3.60zM396.62 452.40h1.60v3.60h-1.60zM393.02 456.00h3.60v3.60h-3.60zM396.62 459.60h1.60v3.60h-1.60zM393.02 463.20h3.60v3.60h-3.60zM396.62 466.80h1.60v3.60h-1.60zM393.02 470.40h3.60v3.60h-3.60zM396.62 474.00h1.60v3.60h-1.60zM393.02 477.60h3.60v3.60h-3.60zM396.62 481.20h1.60v3.60h-1.60zM393.02 484.80h3.60v3.60h-3.60zM396.62 488.40h1.60v3.60h-1.60zM393.02 492.00h3.60v3.60h-3.60zM396.62 495.60h1.60v3.60h-1.60zM393.02 499.20h3.60v3.60h-3.60zM396.62 502.80h1.60v0.95h-1.60z" fill="#000"/>
<rect x="393.02" y="428.46" width="5.2" height="75.29" fill="none" stroke="#000" stroke-width="1"/>
<line x1="395.62" y1="424.12" x2="395.62" y2="432.81" stroke="#222" stroke-width="0.9"/>
<line x1="394.52" y1="424.12" x2="396.73" y2="424.12" stroke="#222" stroke-width="1"/>
<line x1="394.52" y1="432.81" x2="396.73" y2="432.81" stroke="#222" stroke-width="1"/>
<text transform="translate(395.62,425.02) scale(1.12,1)" font-size="15" text-anchor="middle" fill="#000">*</text>
<rect x="400.92" y="420.36" width="5.2" height="83.39" fill="#fff"/>
<path d="M400.92 422.80h5.20M400.92 428.10h5.20M400.92 433.40h5.20M400.92 438.70h5.20M400.92 444.00h5.20M400.92 449.30h5.20M400.92 454.60h5.20M400.92 459.90h5.20M400.92 465.20h5.20M400.92 470.50h5.20M400.92 475.80h5.20M400.92 481.10h5.20M400.92 486.40h5.20M400.92 491.70h5.20M400.92 497.00h5.20M400.92 502.30h5.20" stroke="#111" stroke-width="1"/>
<rect x="400.92" y="420.36" width="5.2" height="83.39" fill="none" stroke="#000" stroke-width="1"/>
<line x1="403.52" y1="415.78" x2="403.52" y2="424.94" stroke="#222" stroke-width="0.9"/>
<line x1="402.42" y1="415.78" x2="404.62" y2="415.78" stroke="#222" stroke-width="1"/>
<line x1="402.42" y1="424.94" x2="404.62" y2="424.94" stroke="#222" stroke-width="1"/>
<text transform="translate(403.52,416.68) scale(1.12,1)" font-size="15" text-anchor="middle" fill="#000">*</text>
<rect x="394.73" y="503" width="1.8" height="5.3" fill="#000"/>
<text transform="translate(397.12,516) scale(1.06,1) rotate(-45)" font-size="11" font-weight="bold" text-anchor="end" fill="#000">PYL9</text>
<rect x="413.65" y="386.30" width="5.2" height="117.45" fill="#fff" stroke="#000" stroke-width="1"/>
<line x1="416.25" y1="383.25" x2="416.25" y2="389.35" stroke="#222" stroke-width="0.9"/>
<line x1="415.15" y1="383.25" x2="417.35" y2="383.25" stroke="#222" stroke-width="1"/>
<line x1="415.15" y1="389.35" x2="417.35" y2="389.35" stroke="#222" stroke-width="1"/>
<rect x="421.55" y="399.34" width="5.2" height="104.41" fill="#fff"/>
<path d="M421.55 399.34h3.60v2.66h-3.60zM425.15 402.00h1.60v3.60h-1.60zM421.55 405.60h3.60v3.60h-3.60zM425.15 409.20h1.60v3.60h-1.60zM421.55 412.80h3.60v3.60h-3.60zM425.15 416.40h1.60v3.60h-1.60zM421.55 420.00h3.60v3.60h-3.60zM425.15 423.60h1.60v3.60h-1.60zM421.55 427.20h3.60v3.60h-3.60zM425.15 430.80h1.60v3.60h-1.60zM421.55 434.40h3.60v3.60h-3.60zM425.15 438.00h1.60v3.60h-1.60zM421.55 441.60h3.60v3.60h-3.60zM425.15 445.20h1.60v3.60h-1.60zM421.55 448.80h3.60v3.60h-3.60zM425.15 452.40h1.60v3.60h-1.60zM421.55 456.00h3.60v3.60h-3.60zM425.15 459.60h1.60v3.60h-1.60zM421.55 463.20h3.60v3.60h-3.60zM425.15 466.80h1.60v3.60h-1.60zM421.55 470.40h3.60v3.60h-3.60zM425.15 474.00h1.60v3.60h-1.60zM421.55 477.60h3.60v3.60h-3.60zM425.15 481.20h1.60v3.60h-1.60zM421.55 484.80h3.60v3.60h-3.60zM425.15 488.40h1.60v3.60h-1.60zM421.55 492.00h3.60v3.60h-3.60zM425.15 495.60h1.60v3.60h-1.60zM421.55 499.20h3.60v3.60h-3.60zM425.15 502.80h1.60v0.95h-1.60z" fill="#000"/>
<rect x="421.55" y="399.34" width="5.2" height="104.41" fill="none" stroke="#000" stroke-width="1"/>
<line x1="424.15" y1="392.88" x2="424.15" y2="405.80" stroke="#222" stroke-width="0.9"/>
<line x1="423.05" y1="392.88" x2="425.25" y2="392.88" stroke="#222" stroke-width="1"/>
<line x1="423.05" y1="405.80" x2="425.25" y2="405.80" stroke="#222" stroke-width="1"/>
<text transform="translate(424.15,393.78) scale(1.12,1)" font-size="15" text-anchor="middle" fill="#000">*</text>
<rect x="429.45" y="396.05" width="5.2" height="107.70" fill="#fff"/>
<path d="M429.45 401.60h5.20M429.45 406.90h5.20M429.45 412.20h5.20M429.45 417.50h5.20M429.45 422.80h5.20M429.45 428.10h5.20M429.45 433.40h5.20M429.45 438.70h5.20M429.45 444.00h5.20M429.45 449.30h5.20M429.45 454.60h5.20M429.45 459.90h5.20M429.45 465.20h5.20M429.45 470.50h5.20M429.45 475.80h5.20M429.45 481.10h5.20M429.45 486.40h5.20M429.45 491.70h5.20M429.45 497.00h5.20M429.45 502.30h5.20" stroke="#111" stroke-width="1"/>
<rect x="429.45" y="396.05" width="5.2" height="107.70" fill="none" stroke="#000" stroke-width="1"/>
<line x1="432.05" y1="391.59" x2="432.05" y2="400.51" stroke="#222" stroke-width="0.9"/>
<line x1="430.95" y1="391.59" x2="433.15" y2="391.59" stroke="#222" stroke-width="1"/>
<line x1="430.95" y1="400.51" x2="433.15" y2="400.51" stroke="#222" stroke-width="1"/>
<rect x="423.25" y="503" width="1.8" height="5.3" fill="#000"/>
<text transform="translate(425.65,516) scale(1.06,1) rotate(-45)" font-size="11" font-weight="bold" text-anchor="end" fill="#000">PYL10</text>
<rect x="442.18" y="386.30" width="5.2" height="117.45" fill="#fff" stroke="#000" stroke-width="1"/>
<rect x="450.08" y="413.78" width="5.2" height="89.97" fill="#fff"/>
<path d="M450.08 413.78h3.60v2.62h-3.60zM453.68 416.40h1.60v3.60h-1.60zM450.08 420.00h3.60v3.60h-3.60zM453.68 423.60h1.60v3.60h-1.60zM450.08 427.20h3.60v3.60h-3.60zM453.68 430.80h1.60v3.60h-1.60zM450.08 434.40h3.60v3.60h-3.60zM453.68 438.00h1.60v3.60h-1.60zM450.08 441.60h3.60v3.60h-3.60zM453.68 445.20h1.60v3.60h-1.60zM450.08 448.80h3.60v3.60h-3.60zM453.68 452.40h1.60v3.60h-1.60zM450.08 456.00h3.60v3.60h-3.60zM453.68 459.60h1.60v3.60h-1.60zM450.08 463.20h3.60v3.60h-3.60zM453.68 466.80h1.60v3.60h-1.60zM450.08 470.40h3.60v3.60h-3.60zM453.68 474.00h1.60v3.60h-1.60zM450.08 477.60h3.60v3.60h-3.60zM453.68 481.20h1.60v3.60h-1.60zM450.08 484.80h3.60v3.60h-3.60zM453.68 488.40h1.60v3.60h-1.60zM450.08 492.00h3.60v3.60h-3.60zM453.68 495.60h1.60v3.60h-1.60zM450.08 499.20h3.60v3.60h-3.60zM453.68 502.80h1.60v0.95h-1.60z" fill="#000"/>
<rect x="450.08" y="413.78" width="5.2" height="89.97" fill="none" stroke="#000" stroke-width="1"/>
<line x1="452.68" y1="401.80" x2="452.68" y2="425.76" stroke="#222" stroke-width="0.9"/>
<line x1="451.58" y1="401.80" x2="453.78" y2="401.80" stroke="#222" stroke-width="1"/>
<line x1="451.58" y1="425.76" x2="453.78" y2="425.76" stroke="#222" stroke-width="1"/>
<text transform="translate(452.68,402.70) scale(1.12,1)" font-size="15" text-anchor="middle" fill="#000">*</text>
<rect x="457.98" y="392.41" width="5.2" height="111.34" fill="#fff"/>
<path d="M457.98 396.30h5.20M457.98 401.60h5.20M457.98 406.90h5.20M457.98 412.20h5.20M457.98 417.50h5.20M457.98 422.80h5.20M457.98 428.10h5.20M457.98 433.40h5.20M457.98 438.70h5.20M457.98 444.00h5.20M457.98 449.30h5.20M457.98 454.60h5.20M457.98 459.90h5.20M457.98 465.20h5.20M457.98 470.50h5.20M457.98 475.80h5.20M457.98 481.10h5.20M457.98 486.40h5.20M457.98 491.70h5.20M457.98 497.00h5.20M457.98 502.30h5.20" stroke="#111" stroke-width="1"/>
<rect x="457.98" y="392.41" width="5.2" height="111.34" fill="none" stroke="#000" stroke-width="1"/>
<line x1="460.58" y1="390.41" x2="460.58" y2="394.40" stroke="#222" stroke-width="0.9"/>
<line x1="459.48" y1="390.41" x2="461.68" y2="390.41" stroke="#222" stroke-width="1"/>
<line x1="459.48" y1="394.40" x2="461.68" y2="394.40" stroke="#222" stroke-width="1"/>
<rect x="451.78" y="503" width="1.8" height="5.3" fill="#000"/>
<text transform="translate(454.18,516) scale(1.06,1) rotate(-45)" font-size="11" font-weight="bold" text-anchor="end" fill="#000">PYL11</text>
<rect x="470.70" y="386.30" width="5.2" height="117.45" fill="#fff" stroke="#000" stroke-width="1"/>
<line x1="473.30" y1="384.77" x2="473.30" y2="387.83" stroke="#222" stroke-width="0.9"/>
<line x1="472.20" y1="384.77" x2="474.40" y2="384.77" stroke="#222" stroke-width="1"/>
<line x1="472.20" y1="387.83" x2="474.40" y2="387.83" stroke="#222" stroke-width="1"/>
<rect x="478.60" y="416.25" width="5.2" height="87.50" fill="#fff"/>
<path d="M478.60 416.25h3.60v0.15h-3.60zM482.20 416.40h1.60v3.60h-1.60zM478.60 420.00h3.60v3.60h-3.60zM482.20 423.60h1.60v3.60h-1.60zM478.60 427.20h3.60v3.60h-3.60zM482.20 430.80h1.60v3.60h-1.60zM478.60 434.40h3.60v3.60h-3.60zM482.20 438.00h1.60v3.60h-1.60zM478.60 441.60h3.60v3.60h-3.60zM482.20 445.20h1.60v3.60h-1.60zM478.60 448.80h3.60v3.60h-3.60zM482.20 452.40h1.60v3.60h-1.60zM478.60 456.00h3.60v3.60h-3.60zM482.20 459.60h1.60v3.60h-1.60zM478.60 463.20h3.60v3.60h-3.60zM482.20 466.80h1.60v3.60h-1.60zM478.60 470.40h3.60v3.60h-3.60zM482.20 474.00h1.60v3.60h-1.60zM478.60 477.60h3.60v3.60h-3.60zM482.20 481.20h1.60v3.60h-1.60zM478.60 484.80h3.60v3.60h-3.60zM482.20 488.40h1.60v3.60h-1.60zM478.60 492.00h3.60v3.60h-3.60zM482.20 495.60h1.60v3.60h-1.60zM478.60 499.20h3.60v3.60h-3.60zM482.20 502.80h1.60v0.95h-1.60z" fill="#000"/>
<rect x="478.60" y="416.25" width="5.2" height="87.50" fill="none" stroke="#000" stroke-width="1"/>
<line x1="481.20" y1="410.26" x2="481.20" y2="422.24" stroke="#222" stroke-width="0.9"/>
<line x1="480.10" y1="410.26" x2="482.30" y2="410.26" stroke="#222" stroke-width="1"/>
<line x1="480.10" y1="422.24" x2="482.30" y2="422.24" stroke="#222" stroke-width="1"/>
<text transform="translate(481.20,411.16) scale(1.12,1)" font-size="15" text-anchor="middle" fill="#000">*</text>
<rect x="486.50" y="406.85" width="5.2" height="96.90" fill="#fff"/>
<path d="M486.50 412.20h5.20M486.50 417.50h5.20M486.50 422.80h5.20M486.50 428.10h5.20M486.50 433.40h5.20M486.50 438.70h5.20M486.50 444.00h5.20M486.50 449.30h5.20M486.50 454.60h5.20M486.50 459.90h5.20M486.50 465.20h5.20M486.50 470.50h5.20M486.50 475.80h5.20M486.50 481.10h5.20M486.50 486.40h5.20M486.50 491.70h5.20M486.50 497.00h5.20M486.50 502.30h5.20" stroke="#111" stroke-width="1"/>
<rect x="486.50" y="406.85" width="5.2" height="96.90" fill="none" stroke="#000" stroke-width="1"/>
<line x1="489.10" y1="404.39" x2="489.10" y2="409.32" stroke="#222" stroke-width="0.9"/>
<line x1="488.00" y1="404.39" x2="490.20" y2="404.39" stroke="#222" stroke-width="1"/>
<line x1="488.00" y1="409.32" x2="490.20" y2="409.32" stroke="#222" stroke-width="1"/>
<text transform="translate(489.10,405.29) scale(1.12,1)" font-size="15" text-anchor="middle" fill="#000">*</text>
<rect x="480.30" y="503" width="1.8" height="5.3" fill="#000"/>
<text transform="translate(482.70,516) scale(1.06,1) rotate(-45)" font-size="11" font-weight="bold" text-anchor="end" fill="#000">PYL12</text>
<text transform="translate(84.3,415.2) scale(1.1,1) rotate(-90)" font-size="12" font-weight="bold" text-anchor="middle" fill="#000">ABI2 activity (%)</text>
<rect x="388.6" y="307.9" width="21" height="6.6" rx="1.2" fill="#fff" stroke="#000" stroke-width="1.2"/>
<rect x="388.6" y="328.2" width="21" height="6.4" fill="#fff"/>
<path d="M388.60 331.4h3.50v3.2h-3.50zM392.10 328.2h3.50v3.2h-3.50zM395.60 331.4h3.50v3.2h-3.50zM399.10 328.2h3.50v3.2h-3.50zM402.60 331.4h3.50v3.2h-3.50zM406.10 328.2h3.50v3.2h-3.50z" fill="#000"/>
<rect x="388.6" y="328.2" width="21" height="6.4" fill="none" stroke="#000" stroke-width="1.2"/>
<rect x="388.6" y="348.2" width="21" height="6.4" rx="1.2" fill="#fff" stroke="#000" stroke-width="1.2"/>
<rect x="389.2" y="352.3" width="19.8" height="1.4" fill="#555"/>
<text transform="translate(421.0,315.0) scale(1.18,1)" font-size="11.5" fill="#000">DMSO</text>
<text transform="translate(421.0,335.4) scale(1.18,1)" font-size="11.5" fill="#000">10 µM ABA</text>
<text transform="translate(421.0,355.5) scale(1.18,1)" font-size="11.5" fill="#000">10 µM SLG1</text>
</svg></body></html>
